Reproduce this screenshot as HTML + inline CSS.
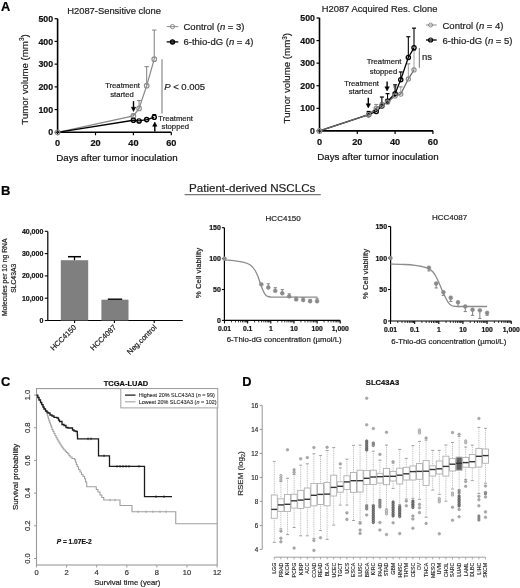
<!DOCTYPE html>
<html><head><meta charset="utf-8"><title>Figure</title>
<style>html,body{margin:0;padding:0;background:#fff;} svg{display:block;} text{font-family:"Liberation Sans",Arial,sans-serif;}</style>
</head><body>
<svg width="520" height="588" viewBox="0 0 520 588">
<rect width="520" height="588" fill="#fff"/>
<text x="1.00" y="11.10" font-size="12.8" text-anchor="start" font-weight="bold" fill="#000" stroke="#000" stroke-width="0.2">A</text>
<text x="1.00" y="194.60" font-size="13.0" text-anchor="start" font-weight="bold" fill="#000" stroke="#000" stroke-width="0.2">B</text>
<text x="0.90" y="386.40" font-size="12.8" text-anchor="start" font-weight="bold" fill="#000" stroke="#000" stroke-width="0.2">C</text>
<text x="242.20" y="386.40" font-size="12.8" text-anchor="start" font-weight="bold" fill="#000" stroke="#000" stroke-width="0.2">D</text>
<line x1="57.60" y1="18.70" x2="57.60" y2="132.30" stroke="#000" stroke-width="1.6"/>
<line x1="54.60" y1="132.30" x2="57.60" y2="132.30" stroke="#000" stroke-width="1.2"/>
<text x="53.10" y="135.40" font-size="8.8" text-anchor="end" font-weight="bold" fill="#111" stroke="#111" stroke-width="0.2">0</text>
<line x1="54.60" y1="109.58" x2="57.60" y2="109.58" stroke="#000" stroke-width="1.2"/>
<text x="53.10" y="112.68" font-size="8.8" text-anchor="end" font-weight="bold" fill="#111" stroke="#111" stroke-width="0.2">100</text>
<line x1="54.60" y1="86.86" x2="57.60" y2="86.86" stroke="#000" stroke-width="1.2"/>
<text x="53.10" y="89.96" font-size="8.8" text-anchor="end" font-weight="bold" fill="#111" stroke="#111" stroke-width="0.2">200</text>
<line x1="54.60" y1="64.14" x2="57.60" y2="64.14" stroke="#000" stroke-width="1.2"/>
<text x="53.10" y="67.24" font-size="8.8" text-anchor="end" font-weight="bold" fill="#111" stroke="#111" stroke-width="0.2">300</text>
<line x1="54.60" y1="41.42" x2="57.60" y2="41.42" stroke="#000" stroke-width="1.2"/>
<text x="53.10" y="44.52" font-size="8.8" text-anchor="end" font-weight="bold" fill="#111" stroke="#111" stroke-width="0.2">400</text>
<line x1="54.60" y1="18.70" x2="57.60" y2="18.70" stroke="#000" stroke-width="1.2"/>
<text x="53.10" y="21.80" font-size="8.8" text-anchor="end" font-weight="bold" fill="#111" stroke="#111" stroke-width="0.2">500</text>
<line x1="57.60" y1="132.30" x2="171.40" y2="132.30" stroke="#000" stroke-width="1.6"/>
<line x1="57.60" y1="132.30" x2="57.60" y2="135.30" stroke="#000" stroke-width="1.2"/>
<text x="57.60" y="146.10" font-size="9.2" text-anchor="middle" font-weight="bold" fill="#111" stroke="#111" stroke-width="0.2">0</text>
<line x1="95.50" y1="132.30" x2="95.50" y2="135.30" stroke="#000" stroke-width="1.2"/>
<text x="95.50" y="146.10" font-size="9.2" text-anchor="middle" font-weight="bold" fill="#111" stroke="#111" stroke-width="0.2">20</text>
<line x1="133.40" y1="132.30" x2="133.40" y2="135.30" stroke="#000" stroke-width="1.2"/>
<text x="133.40" y="146.10" font-size="9.2" text-anchor="middle" font-weight="bold" fill="#111" stroke="#111" stroke-width="0.2">40</text>
<line x1="171.30" y1="132.30" x2="171.30" y2="135.30" stroke="#000" stroke-width="1.2"/>
<text x="171.30" y="146.10" font-size="9.2" text-anchor="middle" font-weight="bold" fill="#111" stroke="#111" stroke-width="0.2">60</text>
<text x="67.20" y="13.60" font-size="9.4" text-anchor="start" fill="#222" stroke="#222" stroke-width="0.2">H2087-Sensitive clone</text>
<text x="27.90" y="79.50" font-size="9.7" text-anchor="middle" fill="#222" stroke="#222" stroke-width="0.2" transform="rotate(-90 27.90 79.50)">Tumor volume (mm<tspan font-size="6.3" dy="-3.5">3</tspan><tspan dy="3.5">)</tspan></text>
<text x="56.20" y="160.80" font-size="9.75" text-anchor="start" fill="#111" stroke="#111" stroke-width="0.2">Days after tumor inoculation</text>
<line x1="133.40" y1="115.94" x2="133.40" y2="114.12" stroke="#8a8a8a" stroke-width="1.1"/>
<line x1="131.20" y1="114.12" x2="135.60" y2="114.12" stroke="#8a8a8a" stroke-width="1.1"/>
<line x1="139.09" y1="108.44" x2="139.09" y2="100.49" stroke="#8a8a8a" stroke-width="1.1"/>
<line x1="136.89" y1="100.49" x2="141.28" y2="100.49" stroke="#8a8a8a" stroke-width="1.1"/>
<line x1="146.66" y1="85.72" x2="146.66" y2="66.64" stroke="#8a8a8a" stroke-width="1.1"/>
<line x1="144.47" y1="66.64" x2="148.86" y2="66.64" stroke="#8a8a8a" stroke-width="1.1"/>
<line x1="154.25" y1="59.14" x2="154.25" y2="30.06" stroke="#8a8a8a" stroke-width="1.1"/>
<line x1="152.05" y1="30.06" x2="156.44" y2="30.06" stroke="#8a8a8a" stroke-width="1.1"/>
<path d="M57.60,132.30 L133.40,115.94 L139.09,108.44 L146.66,85.72 L154.25,59.14" stroke="#8a8a8a" stroke-width="1.2" fill="none"/>
<path d="M57.60,132.30 L133.40,120.26 L139.09,120.94 L146.66,119.58 L154.25,117.30" stroke="#000" stroke-width="1.3" fill="none"/>
<circle cx="133.40" cy="115.94" r="2.3" stroke="#8a8a8a" stroke-width="1.1" fill="none"/>
<circle cx="139.09" cy="108.44" r="2.3" stroke="#8a8a8a" stroke-width="1.1" fill="none"/>
<circle cx="146.66" cy="85.72" r="2.3" stroke="#8a8a8a" stroke-width="1.1" fill="none"/>
<circle cx="154.25" cy="59.14" r="2.3" stroke="#8a8a8a" stroke-width="1.1" fill="none"/>
<circle cx="133.40" cy="120.26" r="2.1" stroke="#000" stroke-width="1.4" fill="none"/>
<circle cx="139.09" cy="120.94" r="2.1" stroke="#000" stroke-width="1.4" fill="none"/>
<circle cx="146.66" cy="119.58" r="2.1" stroke="#000" stroke-width="1.4" fill="none"/>
<circle cx="154.25" cy="117.30" r="2.1" stroke="#000" stroke-width="1.4" fill="none"/>
<line x1="152.25" y1="114.58" x2="156.25" y2="114.58" stroke="#000" stroke-width="1.2"/>
<line x1="154.25" y1="114.80" x2="154.25" y2="114.58" stroke="#000" stroke-width="1.2"/>
<circle cx="57.60" cy="132.30" r="2.3" stroke="#8a8a8a" stroke-width="1.1" fill="none"/>
<circle cx="172.50" cy="26.60" r="2.1" stroke="#8a8a8a" stroke-width="1.0" fill="none"/>
<line x1="166.70" y1="26.60" x2="178.30" y2="26.60" stroke="#8a8a8a" stroke-width="1.0"/>
<circle cx="172.50" cy="41.90" r="2.1" stroke="#000" stroke-width="1.3" fill="#888"/>
<line x1="166.70" y1="41.90" x2="178.30" y2="41.90" stroke="#000" stroke-width="1.3"/>
<text x="183.50" y="30.00" font-size="9.5" text-anchor="start" fill="#222" stroke="#222" stroke-width="0.2">Control (<tspan font-style="italic">n</tspan> = 3)</text>
<text x="183.50" y="44.80" font-size="9.5" text-anchor="start" fill="#222" stroke="#222" stroke-width="0.2">6-thio-dG (<tspan font-style="italic">n</tspan> = 4)</text>
<line x1="162.00" y1="59.20" x2="162.00" y2="113.60" stroke="#8a8a8a" stroke-width="1.2"/>
<text x="164.20" y="89.90" font-size="9.5" text-anchor="start" fill="#222" stroke="#222" stroke-width="0.2"><tspan font-style="italic">P</tspan> &lt; 0.005</text>
<text x="122.50" y="88.10" font-size="7.7" text-anchor="middle" fill="#222" stroke="#222" stroke-width="0.2">Treatment</text>
<text x="122.00" y="96.70" font-size="7.7" text-anchor="middle" fill="#222" stroke="#222" stroke-width="0.2">started</text>
<line x1="133.50" y1="101.20" x2="133.50" y2="108.00" stroke="#000" stroke-width="1.4"/>
<path d="M131.3,107.2 L133.5,111.5 L135.7,107.2 Z" stroke="#000" stroke-width="0.5" fill="#000"/>
<text x="175.60" y="121.20" font-size="7.7" text-anchor="middle" fill="#222" stroke="#222" stroke-width="0.2">Treatment</text>
<text x="175.30" y="129.20" font-size="7.7" text-anchor="middle" fill="#222" stroke="#222" stroke-width="0.2">stopped</text>
<line x1="154.80" y1="131.50" x2="154.80" y2="125.50" stroke="#000" stroke-width="1.4"/>
<path d="M152.6,126.3 L154.8,122 L157,126.3 Z" stroke="#000" stroke-width="0.5" fill="#000"/>
<line x1="319.50" y1="17.80" x2="319.50" y2="130.90" stroke="#000" stroke-width="1.6"/>
<line x1="316.50" y1="130.90" x2="319.50" y2="130.90" stroke="#000" stroke-width="1.2"/>
<text x="315.00" y="134.00" font-size="8.8" text-anchor="end" font-weight="bold" fill="#111" stroke="#111" stroke-width="0.2">0</text>
<line x1="316.50" y1="108.32" x2="319.50" y2="108.32" stroke="#000" stroke-width="1.2"/>
<text x="315.00" y="111.42" font-size="8.8" text-anchor="end" font-weight="bold" fill="#111" stroke="#111" stroke-width="0.2">100</text>
<line x1="316.50" y1="85.74" x2="319.50" y2="85.74" stroke="#000" stroke-width="1.2"/>
<text x="315.00" y="88.84" font-size="8.8" text-anchor="end" font-weight="bold" fill="#111" stroke="#111" stroke-width="0.2">200</text>
<line x1="316.50" y1="63.16" x2="319.50" y2="63.16" stroke="#000" stroke-width="1.2"/>
<text x="315.00" y="66.26" font-size="8.8" text-anchor="end" font-weight="bold" fill="#111" stroke="#111" stroke-width="0.2">300</text>
<line x1="316.50" y1="40.58" x2="319.50" y2="40.58" stroke="#000" stroke-width="1.2"/>
<text x="315.00" y="43.68" font-size="8.8" text-anchor="end" font-weight="bold" fill="#111" stroke="#111" stroke-width="0.2">400</text>
<line x1="316.50" y1="18.00" x2="319.50" y2="18.00" stroke="#000" stroke-width="1.2"/>
<text x="315.00" y="21.10" font-size="8.8" text-anchor="end" font-weight="bold" fill="#111" stroke="#111" stroke-width="0.2">500</text>
<line x1="319.50" y1="130.90" x2="433.20" y2="130.90" stroke="#000" stroke-width="1.6"/>
<line x1="319.50" y1="130.90" x2="319.50" y2="133.90" stroke="#000" stroke-width="1.2"/>
<text x="319.50" y="144.70" font-size="9.2" text-anchor="middle" font-weight="bold" fill="#111" stroke="#111" stroke-width="0.2">0</text>
<line x1="357.30" y1="130.90" x2="357.30" y2="133.90" stroke="#000" stroke-width="1.2"/>
<text x="357.30" y="144.70" font-size="9.2" text-anchor="middle" font-weight="bold" fill="#111" stroke="#111" stroke-width="0.2">20</text>
<line x1="395.10" y1="130.90" x2="395.10" y2="133.90" stroke="#000" stroke-width="1.2"/>
<text x="395.10" y="144.70" font-size="9.2" text-anchor="middle" font-weight="bold" fill="#111" stroke="#111" stroke-width="0.2">40</text>
<line x1="432.90" y1="130.90" x2="432.90" y2="133.90" stroke="#000" stroke-width="1.2"/>
<text x="432.90" y="144.70" font-size="9.2" text-anchor="middle" font-weight="bold" fill="#111" stroke="#111" stroke-width="0.2">60</text>
<text x="321.70" y="12.10" font-size="9.4" text-anchor="start" fill="#222" stroke="#222" stroke-width="0.2">H2087 Acquired Res. Clone</text>
<text x="290.40" y="78.20" font-size="9.7" text-anchor="middle" fill="#222" stroke="#222" stroke-width="0.2" transform="rotate(-90 290.40 78.20)">Tumor volume (mm<tspan font-size="6.3" dy="-3.5">3</tspan><tspan dy="3.5">)</tspan></text>
<text x="317.20" y="160.30" font-size="9.75" text-anchor="start" fill="#111" stroke="#111" stroke-width="0.2">Days after tumor inoculation</text>
<line x1="368.64" y1="114.64" x2="368.64" y2="112.84" stroke="#a0a0a0" stroke-width="1.0"/>
<line x1="366.64" y1="112.84" x2="370.64" y2="112.84" stroke="#8a8a8a" stroke-width="1.1"/>
<line x1="376.20" y1="108.09" x2="376.20" y2="104.48" stroke="#a0a0a0" stroke-width="1.0"/>
<line x1="374.20" y1="104.48" x2="378.20" y2="104.48" stroke="#8a8a8a" stroke-width="1.1"/>
<line x1="381.87" y1="105.16" x2="381.87" y2="102.68" stroke="#a0a0a0" stroke-width="1.0"/>
<line x1="379.87" y1="102.68" x2="383.87" y2="102.68" stroke="#8a8a8a" stroke-width="1.1"/>
<line x1="387.54" y1="102.22" x2="387.54" y2="99.29" stroke="#a0a0a0" stroke-width="1.0"/>
<line x1="385.54" y1="99.29" x2="389.54" y2="99.29" stroke="#8a8a8a" stroke-width="1.1"/>
<line x1="395.10" y1="95.90" x2="395.10" y2="86.87" stroke="#a0a0a0" stroke-width="1.0"/>
<line x1="393.10" y1="86.87" x2="397.10" y2="86.87" stroke="#8a8a8a" stroke-width="1.1"/>
<line x1="400.77" y1="94.09" x2="400.77" y2="86.87" stroke="#a0a0a0" stroke-width="1.0"/>
<line x1="398.77" y1="86.87" x2="402.77" y2="86.87" stroke="#8a8a8a" stroke-width="1.1"/>
<line x1="408.33" y1="78.97" x2="408.33" y2="63.84" stroke="#a0a0a0" stroke-width="1.0"/>
<line x1="406.33" y1="63.84" x2="410.33" y2="63.84" stroke="#8a8a8a" stroke-width="1.1"/>
<line x1="414.00" y1="69.93" x2="414.00" y2="50.52" stroke="#a0a0a0" stroke-width="1.0"/>
<line x1="412.00" y1="50.52" x2="416.00" y2="50.52" stroke="#8a8a8a" stroke-width="1.1"/>
<line x1="368.64" y1="114.64" x2="368.64" y2="111.48" stroke="#000" stroke-width="1.1"/>
<line x1="366.64" y1="111.48" x2="370.64" y2="111.48" stroke="#000" stroke-width="1.2"/>
<line x1="376.20" y1="111.48" x2="376.20" y2="109.45" stroke="#000" stroke-width="1.1"/>
<line x1="374.20" y1="109.45" x2="378.20" y2="109.45" stroke="#000" stroke-width="1.2"/>
<line x1="381.87" y1="106.06" x2="381.87" y2="97.03" stroke="#000" stroke-width="1.1"/>
<line x1="379.87" y1="97.03" x2="383.87" y2="97.03" stroke="#000" stroke-width="1.2"/>
<line x1="387.54" y1="101.32" x2="387.54" y2="93.64" stroke="#000" stroke-width="1.1"/>
<line x1="385.54" y1="93.64" x2="389.54" y2="93.64" stroke="#000" stroke-width="1.2"/>
<line x1="395.10" y1="93.64" x2="395.10" y2="84.84" stroke="#000" stroke-width="1.1"/>
<line x1="393.10" y1="84.84" x2="397.10" y2="84.84" stroke="#000" stroke-width="1.2"/>
<line x1="400.77" y1="79.64" x2="400.77" y2="71.97" stroke="#000" stroke-width="1.1"/>
<line x1="398.77" y1="71.97" x2="402.77" y2="71.97" stroke="#000" stroke-width="1.2"/>
<line x1="408.33" y1="57.52" x2="408.33" y2="36.74" stroke="#000" stroke-width="1.1"/>
<line x1="406.33" y1="36.74" x2="410.33" y2="36.74" stroke="#000" stroke-width="1.2"/>
<line x1="414.00" y1="47.81" x2="414.00" y2="28.16" stroke="#000" stroke-width="1.1"/>
<line x1="412.00" y1="28.16" x2="416.00" y2="28.16" stroke="#000" stroke-width="1.2"/>
<path d="M319.50,130.90 L368.64,114.64 L376.20,111.48 L381.87,106.06 L387.54,101.32 L395.10,93.64 L400.77,79.64 L408.33,57.52 L414.00,47.81" stroke="#000" stroke-width="1.3" fill="none"/>
<path d="M319.50,130.90 L368.64,114.64 L376.20,108.09 L381.87,105.16 L387.54,102.22 L395.10,95.90 L400.77,94.09 L408.33,78.97 L414.00,69.93" stroke="#666" stroke-width="1.2" fill="none"/>
<circle cx="368.64" cy="114.64" r="2.1" stroke="#000" stroke-width="1.3" fill="none"/>
<circle cx="376.20" cy="111.48" r="2.1" stroke="#000" stroke-width="1.3" fill="none"/>
<circle cx="381.87" cy="106.06" r="2.1" stroke="#000" stroke-width="1.3" fill="none"/>
<circle cx="387.54" cy="101.32" r="2.1" stroke="#000" stroke-width="1.3" fill="none"/>
<circle cx="395.10" cy="93.64" r="2.1" stroke="#000" stroke-width="1.3" fill="none"/>
<circle cx="400.77" cy="79.64" r="2.1" stroke="#000" stroke-width="1.3" fill="none"/>
<circle cx="408.33" cy="57.52" r="2.1" stroke="#000" stroke-width="1.3" fill="none"/>
<circle cx="414.00" cy="47.81" r="2.1" stroke="#000" stroke-width="1.3" fill="none"/>
<circle cx="368.64" cy="114.64" r="2.1" stroke="#8a8a8a" stroke-width="1.1" fill="none"/>
<circle cx="376.20" cy="108.09" r="2.1" stroke="#8a8a8a" stroke-width="1.1" fill="none"/>
<circle cx="381.87" cy="105.16" r="2.1" stroke="#8a8a8a" stroke-width="1.1" fill="none"/>
<circle cx="387.54" cy="102.22" r="2.1" stroke="#8a8a8a" stroke-width="1.1" fill="none"/>
<circle cx="395.10" cy="95.90" r="2.1" stroke="#8a8a8a" stroke-width="1.1" fill="none"/>
<circle cx="400.77" cy="94.09" r="2.1" stroke="#8a8a8a" stroke-width="1.1" fill="none"/>
<circle cx="408.33" cy="78.97" r="2.1" stroke="#8a8a8a" stroke-width="1.1" fill="none"/>
<circle cx="414.00" cy="69.93" r="2.1" stroke="#8a8a8a" stroke-width="1.1" fill="none"/>
<circle cx="319.50" cy="130.90" r="2.3" stroke="#8a8a8a" stroke-width="1.1" fill="none"/>
<circle cx="430.60" cy="25.00" r="2.0" stroke="#8a8a8a" stroke-width="1.0" fill="none"/>
<line x1="426.00" y1="25.00" x2="436.70" y2="25.00" stroke="#8a8a8a" stroke-width="1.0"/>
<circle cx="430.60" cy="40.00" r="2.0" stroke="#000" stroke-width="1.2" fill="none"/>
<line x1="426.00" y1="40.00" x2="436.70" y2="40.00" stroke="#000" stroke-width="1.3"/>
<text x="442.50" y="28.80" font-size="9.5" text-anchor="start" fill="#222" stroke="#222" stroke-width="0.2">Control (<tspan font-style="italic">n</tspan> = 4)</text>
<text x="442.50" y="43.60" font-size="9.5" text-anchor="start" fill="#222" stroke="#222" stroke-width="0.2">6-thio-dG (<tspan font-style="italic">n</tspan> = 5)</text>
<line x1="419.40" y1="48.00" x2="419.40" y2="67.70" stroke="#8a8a8a" stroke-width="1.2"/>
<text x="422.00" y="59.80" font-size="9.5" text-anchor="start" fill="#222" stroke="#222" stroke-width="0.2">ns</text>
<text x="361.50" y="85.60" font-size="7.7" text-anchor="middle" fill="#222" stroke="#222" stroke-width="0.2">Treatment</text>
<text x="360.50" y="93.60" font-size="7.7" text-anchor="middle" fill="#222" stroke="#222" stroke-width="0.2">started</text>
<line x1="368.30" y1="97.70" x2="368.30" y2="104.50" stroke="#000" stroke-width="1.4"/>
<path d="M366.1,103.8 L368.3,108 L370.5,103.8 Z" stroke="#000" stroke-width="0.5" fill="#000"/>
<text x="384.00" y="64.00" font-size="7.7" text-anchor="middle" fill="#222" stroke="#222" stroke-width="0.2">Treatment</text>
<text x="383.50" y="73.50" font-size="7.7" text-anchor="middle" fill="#222" stroke="#222" stroke-width="0.2">stopped</text>
<line x1="387.10" y1="81.50" x2="387.10" y2="87.50" stroke="#000" stroke-width="1.4"/>
<path d="M384.9,86.8 L387.1,91 L389.3,86.8 Z" stroke="#000" stroke-width="0.5" fill="#000"/>
<text x="189.00" y="192.20" font-size="11.6" text-anchor="start" fill="#222" stroke="#222" stroke-width="0.2">Patient-derived NSCLCs</text>
<line x1="184.60" y1="194.60" x2="320.80" y2="194.60" stroke="#777" stroke-width="1.2"/>
<line x1="47.80" y1="231.50" x2="47.80" y2="320.50" stroke="#000" stroke-width="1.2"/>
<line x1="44.80" y1="320.50" x2="47.80" y2="320.50" stroke="#000" stroke-width="1.1"/>
<text x="43.30" y="323.00" font-size="7.0" text-anchor="end" font-weight="bold" fill="#111" stroke="#111" stroke-width="0.2">0</text>
<line x1="44.80" y1="298.20" x2="47.80" y2="298.20" stroke="#000" stroke-width="1.1"/>
<text x="43.30" y="300.70" font-size="7.0" text-anchor="end" font-weight="bold" fill="#111" stroke="#111" stroke-width="0.2">10,000</text>
<line x1="44.80" y1="275.90" x2="47.80" y2="275.90" stroke="#000" stroke-width="1.1"/>
<text x="43.30" y="278.40" font-size="7.0" text-anchor="end" font-weight="bold" fill="#111" stroke="#111" stroke-width="0.2">20,000</text>
<line x1="44.80" y1="253.60" x2="47.80" y2="253.60" stroke="#000" stroke-width="1.1"/>
<text x="43.30" y="256.10" font-size="7.0" text-anchor="end" font-weight="bold" fill="#111" stroke="#111" stroke-width="0.2">30,000</text>
<line x1="44.80" y1="231.30" x2="47.80" y2="231.30" stroke="#000" stroke-width="1.1"/>
<text x="43.30" y="233.80" font-size="7.0" text-anchor="end" font-weight="bold" fill="#111" stroke="#111" stroke-width="0.2">40,000</text>
<line x1="47.80" y1="320.50" x2="182.80" y2="320.50" stroke="#000" stroke-width="1.2"/>
<rect x="60.8" y="260.2" width="27.4" height="60.30" fill="#7f7f7f"/>
<rect x="101.4" y="299.7" width="27.1" height="20.80" fill="#7f7f7f"/>
<line x1="74.50" y1="260.20" x2="74.50" y2="256.70" stroke="#000" stroke-width="1.3"/>
<line x1="68.00" y1="256.70" x2="81.00" y2="256.70" stroke="#000" stroke-width="1.5"/>
<line x1="107.80" y1="299.20" x2="122.20" y2="299.20" stroke="#000" stroke-width="1.4"/>
<line x1="74.60" y1="320.50" x2="74.60" y2="323.00" stroke="#000" stroke-width="1.1"/>
<line x1="114.40" y1="320.50" x2="114.40" y2="323.00" stroke="#000" stroke-width="1.1"/>
<line x1="154.20" y1="320.50" x2="154.20" y2="323.00" stroke="#000" stroke-width="1.1"/>
<text x="76.80" y="327.80" font-size="7.5" text-anchor="end" fill="#222" stroke="#222" stroke-width="0.2" transform="rotate(-45 76.80 327.80)">HCC4150</text>
<text x="116.60" y="327.80" font-size="7.5" text-anchor="end" fill="#222" stroke="#222" stroke-width="0.2" transform="rotate(-45 116.60 327.80)">HCC4087</text>
<text x="157.20" y="327.80" font-size="7.5" text-anchor="end" fill="#222" stroke="#222" stroke-width="0.2" transform="rotate(-45 157.20 327.80)">Neg.control</text>
<text x="6.90" y="277.20" font-size="6.8" text-anchor="middle" fill="#222" stroke="#222" stroke-width="0.2" transform="rotate(-90 6.90 277.20)">Molecules per 10 ng RNA</text>
<text x="16.20" y="278.30" font-size="6.8" text-anchor="middle" fill="#222" stroke="#222" stroke-width="0.2" transform="rotate(-90 16.20 278.30)">SLC43A3</text>
<line x1="224.40" y1="227.70" x2="224.40" y2="320.40" stroke="#000" stroke-width="1.2"/>
<line x1="221.90" y1="320.40" x2="224.40" y2="320.40" stroke="#000" stroke-width="1.1"/>
<text x="220.90" y="322.90" font-size="7.0" text-anchor="end" font-weight="bold" fill="#111" stroke="#111" stroke-width="0.2">0</text>
<line x1="221.90" y1="289.50" x2="224.40" y2="289.50" stroke="#000" stroke-width="1.1"/>
<text x="220.90" y="292.00" font-size="7.0" text-anchor="end" font-weight="bold" fill="#111" stroke="#111" stroke-width="0.2">50</text>
<line x1="221.90" y1="258.60" x2="224.40" y2="258.60" stroke="#000" stroke-width="1.1"/>
<text x="220.90" y="261.10" font-size="7.0" text-anchor="end" font-weight="bold" fill="#111" stroke="#111" stroke-width="0.2">100</text>
<line x1="221.90" y1="227.70" x2="224.40" y2="227.70" stroke="#000" stroke-width="1.1"/>
<text x="220.90" y="230.20" font-size="7.0" text-anchor="end" font-weight="bold" fill="#111" stroke="#111" stroke-width="0.2">150</text>
<line x1="224.40" y1="320.40" x2="340.25" y2="320.40" stroke="#000" stroke-width="1.2"/>
<line x1="224.50" y1="320.40" x2="224.50" y2="323.40" stroke="#000" stroke-width="1.1"/>
<line x1="231.47" y1="320.40" x2="231.47" y2="322.40" stroke="#000" stroke-width="0.8"/>
<line x1="235.55" y1="320.40" x2="235.55" y2="322.40" stroke="#000" stroke-width="0.8"/>
<line x1="238.44" y1="320.40" x2="238.44" y2="322.40" stroke="#000" stroke-width="0.8"/>
<line x1="240.68" y1="320.40" x2="240.68" y2="322.40" stroke="#000" stroke-width="0.8"/>
<line x1="242.51" y1="320.40" x2="242.51" y2="322.40" stroke="#000" stroke-width="0.8"/>
<line x1="244.06" y1="320.40" x2="244.06" y2="322.40" stroke="#000" stroke-width="0.8"/>
<line x1="245.41" y1="320.40" x2="245.41" y2="322.40" stroke="#000" stroke-width="0.8"/>
<line x1="246.59" y1="320.40" x2="246.59" y2="322.40" stroke="#000" stroke-width="0.8"/>
<text x="224.50" y="331.00" font-size="6.8" text-anchor="middle" font-weight="bold" fill="#111" stroke="#111" stroke-width="0.2">0.01</text>
<line x1="247.65" y1="320.40" x2="247.65" y2="323.40" stroke="#000" stroke-width="1.1"/>
<line x1="254.62" y1="320.40" x2="254.62" y2="322.40" stroke="#000" stroke-width="0.8"/>
<line x1="258.70" y1="320.40" x2="258.70" y2="322.40" stroke="#000" stroke-width="0.8"/>
<line x1="261.59" y1="320.40" x2="261.59" y2="322.40" stroke="#000" stroke-width="0.8"/>
<line x1="263.83" y1="320.40" x2="263.83" y2="322.40" stroke="#000" stroke-width="0.8"/>
<line x1="265.66" y1="320.40" x2="265.66" y2="322.40" stroke="#000" stroke-width="0.8"/>
<line x1="267.21" y1="320.40" x2="267.21" y2="322.40" stroke="#000" stroke-width="0.8"/>
<line x1="268.56" y1="320.40" x2="268.56" y2="322.40" stroke="#000" stroke-width="0.8"/>
<line x1="269.74" y1="320.40" x2="269.74" y2="322.40" stroke="#000" stroke-width="0.8"/>
<text x="247.65" y="331.00" font-size="6.8" text-anchor="middle" font-weight="bold" fill="#111" stroke="#111" stroke-width="0.2">0.1</text>
<line x1="270.80" y1="320.40" x2="270.80" y2="323.40" stroke="#000" stroke-width="1.1"/>
<line x1="277.77" y1="320.40" x2="277.77" y2="322.40" stroke="#000" stroke-width="0.8"/>
<line x1="281.85" y1="320.40" x2="281.85" y2="322.40" stroke="#000" stroke-width="0.8"/>
<line x1="284.74" y1="320.40" x2="284.74" y2="322.40" stroke="#000" stroke-width="0.8"/>
<line x1="286.98" y1="320.40" x2="286.98" y2="322.40" stroke="#000" stroke-width="0.8"/>
<line x1="288.81" y1="320.40" x2="288.81" y2="322.40" stroke="#000" stroke-width="0.8"/>
<line x1="290.36" y1="320.40" x2="290.36" y2="322.40" stroke="#000" stroke-width="0.8"/>
<line x1="291.71" y1="320.40" x2="291.71" y2="322.40" stroke="#000" stroke-width="0.8"/>
<line x1="292.89" y1="320.40" x2="292.89" y2="322.40" stroke="#000" stroke-width="0.8"/>
<text x="270.80" y="331.00" font-size="6.8" text-anchor="middle" font-weight="bold" fill="#111" stroke="#111" stroke-width="0.2">1</text>
<line x1="293.95" y1="320.40" x2="293.95" y2="323.40" stroke="#000" stroke-width="1.1"/>
<line x1="300.92" y1="320.40" x2="300.92" y2="322.40" stroke="#000" stroke-width="0.8"/>
<line x1="305.00" y1="320.40" x2="305.00" y2="322.40" stroke="#000" stroke-width="0.8"/>
<line x1="307.89" y1="320.40" x2="307.89" y2="322.40" stroke="#000" stroke-width="0.8"/>
<line x1="310.13" y1="320.40" x2="310.13" y2="322.40" stroke="#000" stroke-width="0.8"/>
<line x1="311.96" y1="320.40" x2="311.96" y2="322.40" stroke="#000" stroke-width="0.8"/>
<line x1="313.51" y1="320.40" x2="313.51" y2="322.40" stroke="#000" stroke-width="0.8"/>
<line x1="314.86" y1="320.40" x2="314.86" y2="322.40" stroke="#000" stroke-width="0.8"/>
<line x1="316.04" y1="320.40" x2="316.04" y2="322.40" stroke="#000" stroke-width="0.8"/>
<text x="293.95" y="331.00" font-size="6.8" text-anchor="middle" font-weight="bold" fill="#111" stroke="#111" stroke-width="0.2">10</text>
<line x1="317.10" y1="320.40" x2="317.10" y2="323.40" stroke="#000" stroke-width="1.1"/>
<line x1="324.07" y1="320.40" x2="324.07" y2="322.40" stroke="#000" stroke-width="0.8"/>
<line x1="328.15" y1="320.40" x2="328.15" y2="322.40" stroke="#000" stroke-width="0.8"/>
<line x1="331.04" y1="320.40" x2="331.04" y2="322.40" stroke="#000" stroke-width="0.8"/>
<line x1="333.28" y1="320.40" x2="333.28" y2="322.40" stroke="#000" stroke-width="0.8"/>
<line x1="335.11" y1="320.40" x2="335.11" y2="322.40" stroke="#000" stroke-width="0.8"/>
<line x1="336.66" y1="320.40" x2="336.66" y2="322.40" stroke="#000" stroke-width="0.8"/>
<line x1="338.01" y1="320.40" x2="338.01" y2="322.40" stroke="#000" stroke-width="0.8"/>
<line x1="339.19" y1="320.40" x2="339.19" y2="322.40" stroke="#000" stroke-width="0.8"/>
<text x="317.10" y="331.00" font-size="6.8" text-anchor="middle" font-weight="bold" fill="#111" stroke="#111" stroke-width="0.2">100</text>
<line x1="340.25" y1="320.40" x2="340.25" y2="323.40" stroke="#000" stroke-width="1.1"/>
<text x="340.25" y="331.00" font-size="6.8" text-anchor="middle" font-weight="bold" fill="#111" stroke="#111" stroke-width="0.2">1,000</text>
<text x="265.60" y="220.80" font-size="8.0" text-anchor="start" fill="#222" stroke="#222" stroke-width="0.2">HCC4150</text>
<text x="200.80" y="273.00" font-size="7.8" text-anchor="middle" fill="#222" stroke="#222" stroke-width="0.2" transform="rotate(-90 200.80 273.00)">% Cell viability</text>
<text x="226.70" y="342.20" font-size="7.8" text-anchor="start" fill="#222" stroke="#222" stroke-width="0.2">6-Thio-dG concentration (µmol/L)</text>
<path d="M224.50,260.10 C226.25,260.22 231.75,260.43 235.00,260.80 C238.25,261.17 241.50,261.63 244.00,262.30 C246.50,262.97 248.25,263.60 250.00,264.80 C251.75,266.00 253.20,267.63 254.50,269.50 C255.80,271.37 256.82,273.65 257.80,276.00 C258.78,278.35 259.57,281.27 260.40,283.60 C261.23,285.93 262.02,288.20 262.80,290.00 C263.58,291.80 264.32,293.35 265.10,294.40 C265.88,295.45 266.60,295.87 267.50,296.30 C268.40,296.73 268.42,296.85 270.50,297.00 C272.58,297.15 272.13,297.17 280.00,297.20 C287.87,297.23 311.42,297.20 317.70,297.20" stroke="#8c8c8c" stroke-width="1.3" fill="none"/>
<circle cx="224.50" cy="258.60" r="1.9" stroke="#8a8a8a" stroke-width="0.6" fill="#8a8a8a"/>
<circle cx="261.33" cy="284.31" r="1.9" stroke="#8a8a8a" stroke-width="0.6" fill="#8a8a8a"/>
<line x1="268.30" y1="287.52" x2="268.30" y2="283.81" stroke="#8a8a8a" stroke-width="1.1"/>
<line x1="266.70" y1="283.81" x2="269.90" y2="283.81" stroke="#8a8a8a" stroke-width="1.1"/>
<circle cx="268.30" cy="287.52" r="1.9" stroke="#8a8a8a" stroke-width="0.6" fill="#8a8a8a"/>
<line x1="275.27" y1="290.80" x2="275.27" y2="287.71" stroke="#8a8a8a" stroke-width="1.1"/>
<line x1="273.67" y1="287.71" x2="276.87" y2="287.71" stroke="#8a8a8a" stroke-width="1.1"/>
<circle cx="275.27" cy="290.80" r="1.9" stroke="#8a8a8a" stroke-width="0.6" fill="#8a8a8a"/>
<line x1="282.26" y1="293.27" x2="282.26" y2="289.56" stroke="#8a8a8a" stroke-width="1.1"/>
<line x1="280.66" y1="289.56" x2="283.86" y2="289.56" stroke="#8a8a8a" stroke-width="1.1"/>
<circle cx="282.26" cy="293.27" r="1.9" stroke="#8a8a8a" stroke-width="0.6" fill="#8a8a8a"/>
<line x1="289.22" y1="296.30" x2="289.22" y2="293.83" stroke="#8a8a8a" stroke-width="1.1"/>
<line x1="287.62" y1="293.83" x2="290.82" y2="293.83" stroke="#8a8a8a" stroke-width="1.1"/>
<circle cx="289.22" cy="296.30" r="1.9" stroke="#8a8a8a" stroke-width="0.6" fill="#8a8a8a"/>
<line x1="296.19" y1="299.39" x2="296.19" y2="297.22" stroke="#8a8a8a" stroke-width="1.1"/>
<line x1="294.59" y1="297.22" x2="297.79" y2="297.22" stroke="#8a8a8a" stroke-width="1.1"/>
<circle cx="296.19" cy="299.39" r="1.9" stroke="#8a8a8a" stroke-width="0.6" fill="#8a8a8a"/>
<line x1="303.16" y1="300.01" x2="303.16" y2="297.53" stroke="#8a8a8a" stroke-width="1.1"/>
<line x1="301.56" y1="297.53" x2="304.76" y2="297.53" stroke="#8a8a8a" stroke-width="1.1"/>
<circle cx="303.16" cy="300.01" r="1.9" stroke="#8a8a8a" stroke-width="0.6" fill="#8a8a8a"/>
<line x1="310.13" y1="301.24" x2="310.13" y2="299.39" stroke="#8a8a8a" stroke-width="1.1"/>
<line x1="308.53" y1="299.39" x2="311.73" y2="299.39" stroke="#8a8a8a" stroke-width="1.1"/>
<circle cx="310.13" cy="301.24" r="1.9" stroke="#8a8a8a" stroke-width="0.6" fill="#8a8a8a"/>
<line x1="317.10" y1="301.24" x2="317.10" y2="298.77" stroke="#8a8a8a" stroke-width="1.1"/>
<line x1="315.50" y1="298.77" x2="318.70" y2="298.77" stroke="#8a8a8a" stroke-width="1.1"/>
<circle cx="317.10" cy="301.24" r="1.9" stroke="#8a8a8a" stroke-width="0.6" fill="#8a8a8a"/>
<line x1="390.60" y1="226.50" x2="390.60" y2="321.00" stroke="#000" stroke-width="1.2"/>
<line x1="388.10" y1="321.00" x2="390.60" y2="321.00" stroke="#000" stroke-width="1.1"/>
<text x="387.10" y="323.50" font-size="7.0" text-anchor="end" font-weight="bold" fill="#111" stroke="#111" stroke-width="0.2">0</text>
<line x1="388.10" y1="289.50" x2="390.60" y2="289.50" stroke="#000" stroke-width="1.1"/>
<text x="387.10" y="292.00" font-size="7.0" text-anchor="end" font-weight="bold" fill="#111" stroke="#111" stroke-width="0.2">50</text>
<line x1="388.10" y1="258.00" x2="390.60" y2="258.00" stroke="#000" stroke-width="1.1"/>
<text x="387.10" y="260.50" font-size="7.0" text-anchor="end" font-weight="bold" fill="#111" stroke="#111" stroke-width="0.2">100</text>
<line x1="388.10" y1="226.50" x2="390.60" y2="226.50" stroke="#000" stroke-width="1.1"/>
<text x="387.10" y="229.00" font-size="7.0" text-anchor="end" font-weight="bold" fill="#111" stroke="#111" stroke-width="0.2">150</text>
<line x1="390.60" y1="321.00" x2="511.25" y2="321.00" stroke="#000" stroke-width="1.2"/>
<line x1="390.50" y1="321.00" x2="390.50" y2="324.00" stroke="#000" stroke-width="1.1"/>
<line x1="397.77" y1="321.00" x2="397.77" y2="323.00" stroke="#000" stroke-width="0.8"/>
<line x1="402.02" y1="321.00" x2="402.02" y2="323.00" stroke="#000" stroke-width="0.8"/>
<line x1="405.04" y1="321.00" x2="405.04" y2="323.00" stroke="#000" stroke-width="0.8"/>
<line x1="407.38" y1="321.00" x2="407.38" y2="323.00" stroke="#000" stroke-width="0.8"/>
<line x1="409.29" y1="321.00" x2="409.29" y2="323.00" stroke="#000" stroke-width="0.8"/>
<line x1="410.91" y1="321.00" x2="410.91" y2="323.00" stroke="#000" stroke-width="0.8"/>
<line x1="412.31" y1="321.00" x2="412.31" y2="323.00" stroke="#000" stroke-width="0.8"/>
<line x1="413.54" y1="321.00" x2="413.54" y2="323.00" stroke="#000" stroke-width="0.8"/>
<text x="390.50" y="331.60" font-size="6.8" text-anchor="middle" font-weight="bold" fill="#111" stroke="#111" stroke-width="0.2">0.01</text>
<line x1="414.65" y1="321.00" x2="414.65" y2="324.00" stroke="#000" stroke-width="1.1"/>
<line x1="421.92" y1="321.00" x2="421.92" y2="323.00" stroke="#000" stroke-width="0.8"/>
<line x1="426.17" y1="321.00" x2="426.17" y2="323.00" stroke="#000" stroke-width="0.8"/>
<line x1="429.19" y1="321.00" x2="429.19" y2="323.00" stroke="#000" stroke-width="0.8"/>
<line x1="431.53" y1="321.00" x2="431.53" y2="323.00" stroke="#000" stroke-width="0.8"/>
<line x1="433.44" y1="321.00" x2="433.44" y2="323.00" stroke="#000" stroke-width="0.8"/>
<line x1="435.06" y1="321.00" x2="435.06" y2="323.00" stroke="#000" stroke-width="0.8"/>
<line x1="436.46" y1="321.00" x2="436.46" y2="323.00" stroke="#000" stroke-width="0.8"/>
<line x1="437.69" y1="321.00" x2="437.69" y2="323.00" stroke="#000" stroke-width="0.8"/>
<text x="414.65" y="331.60" font-size="6.8" text-anchor="middle" font-weight="bold" fill="#111" stroke="#111" stroke-width="0.2">0.1</text>
<line x1="438.80" y1="321.00" x2="438.80" y2="324.00" stroke="#000" stroke-width="1.1"/>
<line x1="446.07" y1="321.00" x2="446.07" y2="323.00" stroke="#000" stroke-width="0.8"/>
<line x1="450.32" y1="321.00" x2="450.32" y2="323.00" stroke="#000" stroke-width="0.8"/>
<line x1="453.34" y1="321.00" x2="453.34" y2="323.00" stroke="#000" stroke-width="0.8"/>
<line x1="455.68" y1="321.00" x2="455.68" y2="323.00" stroke="#000" stroke-width="0.8"/>
<line x1="457.59" y1="321.00" x2="457.59" y2="323.00" stroke="#000" stroke-width="0.8"/>
<line x1="459.21" y1="321.00" x2="459.21" y2="323.00" stroke="#000" stroke-width="0.8"/>
<line x1="460.61" y1="321.00" x2="460.61" y2="323.00" stroke="#000" stroke-width="0.8"/>
<line x1="461.84" y1="321.00" x2="461.84" y2="323.00" stroke="#000" stroke-width="0.8"/>
<text x="438.80" y="331.60" font-size="6.8" text-anchor="middle" font-weight="bold" fill="#111" stroke="#111" stroke-width="0.2">1</text>
<line x1="462.95" y1="321.00" x2="462.95" y2="324.00" stroke="#000" stroke-width="1.1"/>
<line x1="470.22" y1="321.00" x2="470.22" y2="323.00" stroke="#000" stroke-width="0.8"/>
<line x1="474.47" y1="321.00" x2="474.47" y2="323.00" stroke="#000" stroke-width="0.8"/>
<line x1="477.49" y1="321.00" x2="477.49" y2="323.00" stroke="#000" stroke-width="0.8"/>
<line x1="479.83" y1="321.00" x2="479.83" y2="323.00" stroke="#000" stroke-width="0.8"/>
<line x1="481.74" y1="321.00" x2="481.74" y2="323.00" stroke="#000" stroke-width="0.8"/>
<line x1="483.36" y1="321.00" x2="483.36" y2="323.00" stroke="#000" stroke-width="0.8"/>
<line x1="484.76" y1="321.00" x2="484.76" y2="323.00" stroke="#000" stroke-width="0.8"/>
<line x1="485.99" y1="321.00" x2="485.99" y2="323.00" stroke="#000" stroke-width="0.8"/>
<text x="462.95" y="331.60" font-size="6.8" text-anchor="middle" font-weight="bold" fill="#111" stroke="#111" stroke-width="0.2">10</text>
<line x1="487.10" y1="321.00" x2="487.10" y2="324.00" stroke="#000" stroke-width="1.1"/>
<line x1="494.37" y1="321.00" x2="494.37" y2="323.00" stroke="#000" stroke-width="0.8"/>
<line x1="498.62" y1="321.00" x2="498.62" y2="323.00" stroke="#000" stroke-width="0.8"/>
<line x1="501.64" y1="321.00" x2="501.64" y2="323.00" stroke="#000" stroke-width="0.8"/>
<line x1="503.98" y1="321.00" x2="503.98" y2="323.00" stroke="#000" stroke-width="0.8"/>
<line x1="505.89" y1="321.00" x2="505.89" y2="323.00" stroke="#000" stroke-width="0.8"/>
<line x1="507.51" y1="321.00" x2="507.51" y2="323.00" stroke="#000" stroke-width="0.8"/>
<line x1="508.91" y1="321.00" x2="508.91" y2="323.00" stroke="#000" stroke-width="0.8"/>
<line x1="510.14" y1="321.00" x2="510.14" y2="323.00" stroke="#000" stroke-width="0.8"/>
<text x="487.10" y="331.60" font-size="6.8" text-anchor="middle" font-weight="bold" fill="#111" stroke="#111" stroke-width="0.2">100</text>
<line x1="511.25" y1="321.00" x2="511.25" y2="324.00" stroke="#000" stroke-width="1.1"/>
<text x="511.25" y="331.60" font-size="6.8" text-anchor="middle" font-weight="bold" fill="#111" stroke="#111" stroke-width="0.2">1,000</text>
<text x="432.00" y="219.50" font-size="8.0" text-anchor="start" fill="#222" stroke="#222" stroke-width="0.2">HCC4087</text>
<text x="367.80" y="274.00" font-size="7.8" text-anchor="middle" fill="#222" stroke="#222" stroke-width="0.2" transform="rotate(-90 367.80 274.00)">% Cell viability</text>
<text x="391.30" y="343.70" font-size="7.8" text-anchor="start" fill="#222" stroke="#222" stroke-width="0.2">6-Thio-dG concentration (µmol/L)</text>
<path d="M390.50,264.00 C392.92,264.08 400.92,264.28 405.00,264.50 C409.08,264.72 412.17,264.97 415.00,265.30 C417.83,265.63 419.75,265.97 422.00,266.50 C424.25,267.03 426.67,267.58 428.50,268.50 C430.33,269.42 431.67,270.50 433.00,272.00 C434.33,273.50 435.38,275.42 436.50,277.50 C437.62,279.58 438.65,282.12 439.70,284.50 C440.75,286.88 441.78,289.50 442.80,291.80 C443.82,294.10 444.85,296.47 445.80,298.30 C446.75,300.13 447.55,301.60 448.50,302.80 C449.45,304.00 450.42,304.92 451.50,305.50 C452.58,306.08 453.58,306.13 455.00,306.30 C456.42,306.47 454.67,306.47 460.00,306.50 C465.33,306.53 482.50,306.50 487.00,306.50" stroke="#8c8c8c" stroke-width="1.3" fill="none"/>
<circle cx="390.50" cy="258.00" r="1.9" stroke="#8a8a8a" stroke-width="0.6" fill="#8a8a8a"/>
<line x1="428.92" y1="267.76" x2="428.92" y2="270.92" stroke="#8a8a8a" stroke-width="1.1"/>
<line x1="427.32" y1="270.92" x2="430.52" y2="270.92" stroke="#8a8a8a" stroke-width="1.1"/>
<circle cx="428.92" cy="267.76" r="1.9" stroke="#8a8a8a" stroke-width="0.6" fill="#8a8a8a"/>
<line x1="436.19" y1="283.51" x2="436.19" y2="287.93" stroke="#8a8a8a" stroke-width="1.1"/>
<line x1="434.59" y1="287.93" x2="437.79" y2="287.93" stroke="#8a8a8a" stroke-width="1.1"/>
<circle cx="436.19" cy="283.51" r="1.9" stroke="#8a8a8a" stroke-width="0.6" fill="#8a8a8a"/>
<line x1="443.46" y1="292.27" x2="443.46" y2="295.42" stroke="#8a8a8a" stroke-width="1.1"/>
<line x1="441.86" y1="295.42" x2="445.06" y2="295.42" stroke="#8a8a8a" stroke-width="1.1"/>
<circle cx="443.46" cy="292.27" r="1.9" stroke="#8a8a8a" stroke-width="0.6" fill="#8a8a8a"/>
<line x1="450.75" y1="297.69" x2="450.75" y2="301.47" stroke="#8a8a8a" stroke-width="1.1"/>
<line x1="449.15" y1="301.47" x2="452.35" y2="301.47" stroke="#8a8a8a" stroke-width="1.1"/>
<circle cx="450.75" cy="297.69" r="1.9" stroke="#8a8a8a" stroke-width="0.6" fill="#8a8a8a"/>
<line x1="458.02" y1="302.23" x2="458.02" y2="306.64" stroke="#8a8a8a" stroke-width="1.1"/>
<line x1="456.42" y1="306.64" x2="459.62" y2="306.64" stroke="#8a8a8a" stroke-width="1.1"/>
<circle cx="458.02" cy="302.23" r="1.9" stroke="#8a8a8a" stroke-width="0.6" fill="#8a8a8a"/>
<line x1="465.29" y1="306.51" x2="465.29" y2="311.55" stroke="#8a8a8a" stroke-width="1.1"/>
<line x1="463.69" y1="311.55" x2="466.89" y2="311.55" stroke="#8a8a8a" stroke-width="1.1"/>
<circle cx="465.29" cy="306.51" r="1.9" stroke="#8a8a8a" stroke-width="0.6" fill="#8a8a8a"/>
<line x1="472.56" y1="309.72" x2="472.56" y2="315.39" stroke="#8a8a8a" stroke-width="1.1"/>
<line x1="470.96" y1="315.39" x2="474.16" y2="315.39" stroke="#8a8a8a" stroke-width="1.1"/>
<circle cx="472.56" cy="309.72" r="1.9" stroke="#8a8a8a" stroke-width="0.6" fill="#8a8a8a"/>
<line x1="479.83" y1="310.29" x2="479.83" y2="318.48" stroke="#8a8a8a" stroke-width="1.1"/>
<line x1="478.23" y1="318.48" x2="481.43" y2="318.48" stroke="#8a8a8a" stroke-width="1.1"/>
<circle cx="479.83" cy="310.29" r="1.9" stroke="#8a8a8a" stroke-width="0.6" fill="#8a8a8a"/>
<line x1="487.10" y1="312.81" x2="487.10" y2="315.33" stroke="#8a8a8a" stroke-width="1.1"/>
<line x1="485.50" y1="315.33" x2="488.70" y2="315.33" stroke="#8a8a8a" stroke-width="1.1"/>
<circle cx="487.10" cy="312.81" r="1.9" stroke="#8a8a8a" stroke-width="0.6" fill="#8a8a8a"/>
<rect x="36.5" y="388.6" width="180.70" height="176.40" fill="none" stroke="#9a9a9a" stroke-width="1.1"/>
<line x1="34.00" y1="558.50" x2="36.50" y2="558.50" stroke="#9a9a9a" stroke-width="1"/>
<text x="30.00" y="558.50" font-size="7.5" text-anchor="middle" fill="#333" stroke="#333" stroke-width="0.2" transform="rotate(-90 30.00 558.50)">0.0</text>
<line x1="34.00" y1="525.82" x2="36.50" y2="525.82" stroke="#9a9a9a" stroke-width="1"/>
<text x="30.00" y="525.82" font-size="7.5" text-anchor="middle" fill="#333" stroke="#333" stroke-width="0.2" transform="rotate(-90 30.00 525.82)">0.2</text>
<line x1="34.00" y1="493.14" x2="36.50" y2="493.14" stroke="#9a9a9a" stroke-width="1"/>
<text x="30.00" y="493.14" font-size="7.5" text-anchor="middle" fill="#333" stroke="#333" stroke-width="0.2" transform="rotate(-90 30.00 493.14)">0.4</text>
<line x1="34.00" y1="460.46" x2="36.50" y2="460.46" stroke="#9a9a9a" stroke-width="1"/>
<text x="30.00" y="460.46" font-size="7.5" text-anchor="middle" fill="#333" stroke="#333" stroke-width="0.2" transform="rotate(-90 30.00 460.46)">0.6</text>
<line x1="34.00" y1="427.78" x2="36.50" y2="427.78" stroke="#9a9a9a" stroke-width="1"/>
<text x="30.00" y="427.78" font-size="7.5" text-anchor="middle" fill="#333" stroke="#333" stroke-width="0.2" transform="rotate(-90 30.00 427.78)">0.8</text>
<line x1="34.00" y1="395.10" x2="36.50" y2="395.10" stroke="#9a9a9a" stroke-width="1"/>
<text x="30.00" y="395.10" font-size="7.5" text-anchor="middle" fill="#333" stroke="#333" stroke-width="0.2" transform="rotate(-90 30.00 395.10)">1.0</text>
<line x1="36.50" y1="565.00" x2="36.50" y2="567.50" stroke="#9a9a9a" stroke-width="1"/>
<text x="36.50" y="575.00" font-size="7.5" text-anchor="middle" fill="#333" stroke="#333" stroke-width="0.2">0</text>
<line x1="66.60" y1="565.00" x2="66.60" y2="567.50" stroke="#9a9a9a" stroke-width="1"/>
<text x="66.60" y="575.00" font-size="7.5" text-anchor="middle" fill="#333" stroke="#333" stroke-width="0.2">2</text>
<line x1="96.70" y1="565.00" x2="96.70" y2="567.50" stroke="#9a9a9a" stroke-width="1"/>
<text x="96.70" y="575.00" font-size="7.5" text-anchor="middle" fill="#333" stroke="#333" stroke-width="0.2">4</text>
<line x1="126.80" y1="565.00" x2="126.80" y2="567.50" stroke="#9a9a9a" stroke-width="1"/>
<text x="126.80" y="575.00" font-size="7.5" text-anchor="middle" fill="#333" stroke="#333" stroke-width="0.2">6</text>
<line x1="156.90" y1="565.00" x2="156.90" y2="567.50" stroke="#9a9a9a" stroke-width="1"/>
<text x="156.90" y="575.00" font-size="7.5" text-anchor="middle" fill="#333" stroke="#333" stroke-width="0.2">8</text>
<line x1="187.00" y1="565.00" x2="187.00" y2="567.50" stroke="#9a9a9a" stroke-width="1"/>
<text x="187.00" y="575.00" font-size="7.5" text-anchor="middle" fill="#333" stroke="#333" stroke-width="0.2">10</text>
<line x1="217.10" y1="565.00" x2="217.10" y2="567.50" stroke="#9a9a9a" stroke-width="1"/>
<text x="217.10" y="575.00" font-size="7.5" text-anchor="middle" fill="#333" stroke="#333" stroke-width="0.2">12</text>
<text x="127.30" y="585.10" font-size="7.7" text-anchor="middle" fill="#222" stroke="#222" stroke-width="0.2">Survival time (year)</text>
<text x="17.70" y="477.00" font-size="7.9" text-anchor="middle" fill="#222" stroke="#222" stroke-width="0.2" transform="rotate(-90 17.70 477.00)">Survival probability</text>
<text x="126.00" y="385.50" font-size="7.5" text-anchor="middle" font-weight="bold" fill="#111" stroke="#111" stroke-width="0.2">TCGA-LUAD</text>
<text x="74.20" y="544.20" font-size="6.6" text-anchor="middle" font-weight="bold" fill="#111" stroke="#111" stroke-width="0.2"><tspan font-style="italic">P</tspan> = 1.07E-2</text>
<rect x="120.8" y="388.6" width="97" height="19.3" fill="#fff" stroke="#9a9a9a" stroke-width="0.9"/>
<line x1="125.00" y1="395.10" x2="135.50" y2="395.10" stroke="#111" stroke-width="1.2"/>
<line x1="125.00" y1="401.80" x2="135.50" y2="401.80" stroke="#aaa" stroke-width="1.2"/>
<text x="138.70" y="397.00" font-size="5.45" text-anchor="start" fill="#333" stroke="#333" stroke-width="0.14">Highest 20% SLC43A3 (<tspan font-style="italic">n</tspan> = 99)</text>
<text x="138.70" y="403.70" font-size="5.45" text-anchor="start" fill="#333" stroke="#333" stroke-width="0.14">Lowest 20% SLC43A3 (<tspan font-style="italic">n</tspan> = 102)</text>
<path d="M36.50,395.20 H37.80 V397.50 H39.00 V400.00 H40.50 V402.50 H41.70 V404.60 H43.00 V407.00 H44.00 V409.00 H45.50 V411.00 H46.50 V413.00 H47.20 V415.00 H47.80 V417.00 H48.40 V419.00 H49.00 V421.00 H49.80 V423.00 H50.50 V425.00 H51.20 V427.00 H52.00 V429.50 H53.00 V431.50 H54.00 V433.50 H55.00 V435.50 H56.00 V437.50 H57.00 V439.20 H58.00 V441.00 H59.00 V442.70 H60.00 V444.30 H61.00 V446.00 H62.00 V447.30 H63.00 V448.70 H64.00 V450.00 H65.20 V451.30 H66.40 V452.50 H67.70 V453.70 H69.00 V455.50 H70.00 V457.00 H72.00 V458.50 H74.60 V459.80 H75.50 V462.00 H76.30 V464.50 H77.20 V466.70 H78.50 V469.50 H80.00 V472.00 H81.50 V474.50 H83.00 V476.50 H84.60 V478.80 H85.50 V482.00 H86.70 V486.70 H96.25 V486.70 H96.25 V489.50 H98.00 V492.00 H100.00 V495.00 H101.80 V497.50 H103.75 V500.00 H120.00 V500.00 H120.00 V505.50 H132.00 V505.50 H132.00 V511.75 H175.75 V511.75 H175.75 V523.75 H217.20 V523.75" stroke="#a0a0a0" stroke-width="1.1" fill="none"/>
<path d="M36.50,395.20 H37.80 V397.50 H39.00 V400.00 H40.50 V402.50 H41.70 V404.60 H43.00 V407.00 H44.00 V409.00 H45.50 V411.00 H47.00 V412.20 H48.00 V413.00 H50.00 V415.00 H52.00 V416.00 H54.00 V417.30 H57.00 V418.00 H58.50 V420.00 H59.50 V421.50 H62.00 V424.50 H64.00 V425.50 H66.00 V427.50 H68.00 V428.00 H72.00 V428.00 H72.50 V430.00 H74.00 V431.00 H76.00 V431.50 H77.30 V435.00 H77.50 V438.80 H98.50 V438.80 H98.50 V455.80 H109.50 V455.80 H109.50 V466.30 H144.50 V466.30 H144.50 V496.70 H172.00 V496.70" stroke="#1a1a1a" stroke-width="1.3" fill="none"/>
<line x1="88.00" y1="437.50" x2="88.00" y2="440.10" stroke="#1a1a1a" stroke-width="0.8"/>
<line x1="91.00" y1="437.50" x2="91.00" y2="440.10" stroke="#1a1a1a" stroke-width="0.8"/>
<line x1="104.00" y1="454.50" x2="104.00" y2="457.10" stroke="#1a1a1a" stroke-width="0.8"/>
<line x1="117.00" y1="465.00" x2="117.00" y2="467.60" stroke="#1a1a1a" stroke-width="0.8"/>
<line x1="120.00" y1="465.00" x2="120.00" y2="467.60" stroke="#1a1a1a" stroke-width="0.8"/>
<line x1="123.00" y1="465.00" x2="123.00" y2="467.60" stroke="#1a1a1a" stroke-width="0.8"/>
<line x1="126.00" y1="465.00" x2="126.00" y2="467.60" stroke="#1a1a1a" stroke-width="0.8"/>
<line x1="129.00" y1="465.00" x2="129.00" y2="467.60" stroke="#1a1a1a" stroke-width="0.8"/>
<line x1="139.00" y1="465.00" x2="139.00" y2="467.60" stroke="#1a1a1a" stroke-width="0.8"/>
<line x1="156.00" y1="495.40" x2="156.00" y2="498.00" stroke="#1a1a1a" stroke-width="0.8"/>
<line x1="164.00" y1="495.40" x2="164.00" y2="498.00" stroke="#1a1a1a" stroke-width="0.8"/>
<line x1="110.00" y1="498.70" x2="110.00" y2="501.30" stroke="#a0a0a0" stroke-width="0.8"/>
<line x1="115.00" y1="498.70" x2="115.00" y2="501.30" stroke="#a0a0a0" stroke-width="0.8"/>
<line x1="138.00" y1="510.45" x2="138.00" y2="513.05" stroke="#a0a0a0" stroke-width="0.8"/>
<line x1="146.00" y1="510.45" x2="146.00" y2="513.05" stroke="#a0a0a0" stroke-width="0.8"/>
<line x1="153.00" y1="510.45" x2="153.00" y2="513.05" stroke="#a0a0a0" stroke-width="0.8"/>
<line x1="160.00" y1="510.45" x2="160.00" y2="513.05" stroke="#a0a0a0" stroke-width="0.8"/>
<line x1="166.00" y1="510.45" x2="166.00" y2="513.05" stroke="#a0a0a0" stroke-width="0.8"/>
<line x1="262.20" y1="405.40" x2="262.20" y2="549.40" stroke="#8a8a8a" stroke-width="0.9"/>
<line x1="259.70" y1="549.40" x2="262.20" y2="549.40" stroke="#8a8a8a" stroke-width="0.9"/>
<text x="258.20" y="551.60" font-size="6.3" text-anchor="end" fill="#333" stroke="#333" stroke-width="0.2">4</text>
<line x1="259.70" y1="525.40" x2="262.20" y2="525.40" stroke="#8a8a8a" stroke-width="0.9"/>
<text x="258.20" y="527.60" font-size="6.3" text-anchor="end" fill="#333" stroke="#333" stroke-width="0.2">6</text>
<line x1="259.70" y1="501.40" x2="262.20" y2="501.40" stroke="#8a8a8a" stroke-width="0.9"/>
<text x="258.20" y="503.60" font-size="6.3" text-anchor="end" fill="#333" stroke="#333" stroke-width="0.2">8</text>
<line x1="259.70" y1="477.40" x2="262.20" y2="477.40" stroke="#8a8a8a" stroke-width="0.9"/>
<text x="258.20" y="479.60" font-size="6.3" text-anchor="end" fill="#333" stroke="#333" stroke-width="0.2">10</text>
<line x1="259.70" y1="453.40" x2="262.20" y2="453.40" stroke="#8a8a8a" stroke-width="0.9"/>
<text x="258.20" y="455.60" font-size="6.3" text-anchor="end" fill="#333" stroke="#333" stroke-width="0.2">12</text>
<line x1="259.70" y1="429.40" x2="262.20" y2="429.40" stroke="#8a8a8a" stroke-width="0.9"/>
<text x="258.20" y="431.60" font-size="6.3" text-anchor="end" fill="#333" stroke="#333" stroke-width="0.2">14</text>
<line x1="259.70" y1="405.40" x2="262.20" y2="405.40" stroke="#8a8a8a" stroke-width="0.9"/>
<text x="258.20" y="407.60" font-size="6.3" text-anchor="end" fill="#333" stroke="#333" stroke-width="0.2">16</text>
<text x="243.50" y="473.60" font-size="8.0" text-anchor="middle" fill="#333" stroke="#333" stroke-width="0.2" transform="rotate(-90 243.50 473.60)">RSEM (log<tspan font-size="5.4" dy="1.9">2</tspan><tspan dy="-1.9">)</tspan></text>
<text x="382.50" y="385.40" font-size="7.6" text-anchor="middle" font-weight="bold" fill="#111" stroke="#111" stroke-width="0.2">SLC43A3</text>
<line x1="274.30" y1="461.40" x2="274.30" y2="495.00" stroke="#a8a8a8" stroke-width="0.75" stroke-dasharray="1,0.8"/>
<line x1="274.30" y1="518.30" x2="274.30" y2="542.40" stroke="#a8a8a8" stroke-width="0.75" stroke-dasharray="1,0.8"/>
<line x1="272.80" y1="461.40" x2="275.80" y2="461.40" stroke="#999" stroke-width="0.9"/>
<line x1="272.80" y1="542.40" x2="275.80" y2="542.40" stroke="#999" stroke-width="0.9"/>
<rect x="271.30" y="495.00" width="6.00" height="23.30" fill="#fff" stroke="#b0b0b0" stroke-width="0.9"/>
<line x1="271.30" y1="509.40" x2="277.30" y2="509.40" stroke="#333" stroke-width="1.4"/>
<line x1="274.30" y1="557.20" x2="274.30" y2="559.40" stroke="#888" stroke-width="0.7"/>
<text x="276.20" y="562.80" font-size="5.2" text-anchor="end" fill="#222" stroke="#222" stroke-width="0.14" transform="rotate(-90 276.20 562.80)">LGG</text>
<line x1="280.90" y1="481.50" x2="280.90" y2="498.80" stroke="#a8a8a8" stroke-width="0.75" stroke-dasharray="1,0.8"/>
<line x1="280.90" y1="511.40" x2="280.90" y2="528.80" stroke="#a8a8a8" stroke-width="0.75" stroke-dasharray="1,0.8"/>
<line x1="279.40" y1="481.50" x2="282.40" y2="481.50" stroke="#999" stroke-width="0.9"/>
<line x1="279.40" y1="528.80" x2="282.40" y2="528.80" stroke="#999" stroke-width="0.9"/>
<rect x="277.90" y="498.80" width="6.00" height="12.60" fill="#fff" stroke="#b0b0b0" stroke-width="0.9"/>
<line x1="277.90" y1="504.90" x2="283.90" y2="504.90" stroke="#333" stroke-width="1.4"/>
<circle cx="280.90" cy="531.10" r="1.3" stroke="#999" stroke-width="0.6" fill="#aaa"/>
<circle cx="280.90" cy="538.20" r="1.3" stroke="#999" stroke-width="0.6" fill="#aaa"/>
<circle cx="280.90" cy="541.80" r="1.3" stroke="#999" stroke-width="0.6" fill="#aaa"/>
<circle cx="280.90" cy="475.50" r="1.2" stroke="#999" stroke-width="0.7" fill="#d0d0d0"/>
<circle cx="280.90" cy="477.75" r="1.2" stroke="#999" stroke-width="0.7" fill="#d0d0d0"/>
<circle cx="280.90" cy="480.00" r="1.2" stroke="#999" stroke-width="0.7" fill="#d0d0d0"/>
<line x1="280.90" y1="557.20" x2="280.90" y2="559.40" stroke="#888" stroke-width="0.7"/>
<text x="282.80" y="562.80" font-size="5.2" text-anchor="end" fill="#222" stroke="#222" stroke-width="0.14" transform="rotate(-90 282.80 562.80)">PRAD</text>
<line x1="287.50" y1="478.30" x2="287.50" y2="494.50" stroke="#a8a8a8" stroke-width="0.75" stroke-dasharray="1,0.8"/>
<line x1="287.50" y1="511.40" x2="287.50" y2="534.60" stroke="#a8a8a8" stroke-width="0.75" stroke-dasharray="1,0.8"/>
<line x1="286.00" y1="478.30" x2="289.00" y2="478.30" stroke="#999" stroke-width="0.9"/>
<line x1="286.00" y1="534.60" x2="289.00" y2="534.60" stroke="#999" stroke-width="0.9"/>
<rect x="284.50" y="494.50" width="6.00" height="16.90" fill="#fff" stroke="#b0b0b0" stroke-width="0.9"/>
<line x1="284.50" y1="504.30" x2="290.50" y2="504.30" stroke="#333" stroke-width="1.4"/>
<circle cx="287.50" cy="449.80" r="1.3" stroke="#999" stroke-width="0.6" fill="#aaa"/>
<line x1="287.50" y1="557.20" x2="287.50" y2="559.40" stroke="#888" stroke-width="0.7"/>
<text x="289.40" y="562.80" font-size="5.2" text-anchor="end" fill="#222" stroke="#222" stroke-width="0.14" transform="rotate(-90 289.40 562.80)">KICH</text>
<line x1="294.10" y1="474.50" x2="294.10" y2="494.20" stroke="#a8a8a8" stroke-width="0.75" stroke-dasharray="1,0.8"/>
<line x1="294.10" y1="508.10" x2="294.10" y2="527.50" stroke="#a8a8a8" stroke-width="0.75" stroke-dasharray="1,0.8"/>
<line x1="292.60" y1="474.50" x2="295.60" y2="474.50" stroke="#999" stroke-width="0.9"/>
<line x1="292.60" y1="527.50" x2="295.60" y2="527.50" stroke="#999" stroke-width="0.9"/>
<rect x="291.10" y="494.20" width="6.00" height="13.90" fill="#fff" stroke="#b0b0b0" stroke-width="0.9"/>
<line x1="291.10" y1="500.80" x2="297.10" y2="500.80" stroke="#333" stroke-width="1.4"/>
<circle cx="294.10" cy="469.80" r="1.3" stroke="#999" stroke-width="0.6" fill="#aaa"/>
<circle cx="294.10" cy="472.40" r="1.3" stroke="#999" stroke-width="0.6" fill="#aaa"/>
<circle cx="294.10" cy="548.10" r="1.3" stroke="#999" stroke-width="0.6" fill="#aaa"/>
<line x1="294.10" y1="557.20" x2="294.10" y2="559.40" stroke="#888" stroke-width="0.7"/>
<text x="296.00" y="562.80" font-size="5.2" text-anchor="end" fill="#222" stroke="#222" stroke-width="0.14" transform="rotate(-90 296.00 562.80)">PCPG</text>
<line x1="300.70" y1="465.20" x2="300.70" y2="490.40" stroke="#a8a8a8" stroke-width="0.75" stroke-dasharray="1,0.8"/>
<line x1="300.70" y1="508.50" x2="300.70" y2="535.80" stroke="#a8a8a8" stroke-width="0.75" stroke-dasharray="1,0.8"/>
<line x1="299.20" y1="465.20" x2="302.20" y2="465.20" stroke="#999" stroke-width="0.9"/>
<line x1="299.20" y1="535.80" x2="302.20" y2="535.80" stroke="#999" stroke-width="0.9"/>
<rect x="297.70" y="490.40" width="6.00" height="18.10" fill="#fff" stroke="#b0b0b0" stroke-width="0.9"/>
<line x1="297.70" y1="500.10" x2="303.70" y2="500.10" stroke="#333" stroke-width="1.4"/>
<circle cx="300.70" cy="458.80" r="1.3" stroke="#999" stroke-width="0.6" fill="#aaa"/>
<line x1="300.70" y1="557.20" x2="300.70" y2="559.40" stroke="#888" stroke-width="0.7"/>
<text x="302.60" y="562.80" font-size="5.2" text-anchor="end" fill="#222" stroke="#222" stroke-width="0.14" transform="rotate(-90 302.60 562.80)">KIRP</text>
<line x1="307.30" y1="463.80" x2="307.30" y2="488.00" stroke="#a8a8a8" stroke-width="0.75" stroke-dasharray="1,0.8"/>
<line x1="307.30" y1="507.30" x2="307.30" y2="535.80" stroke="#a8a8a8" stroke-width="0.75" stroke-dasharray="1,0.8"/>
<line x1="305.80" y1="463.80" x2="308.80" y2="463.80" stroke="#999" stroke-width="0.9"/>
<line x1="305.80" y1="535.80" x2="308.80" y2="535.80" stroke="#999" stroke-width="0.9"/>
<rect x="304.30" y="488.00" width="6.00" height="19.30" fill="#fff" stroke="#b0b0b0" stroke-width="0.9"/>
<line x1="304.30" y1="499.30" x2="310.30" y2="499.30" stroke="#333" stroke-width="1.4"/>
<circle cx="307.30" cy="457.60" r="1.3" stroke="#999" stroke-width="0.6" fill="#aaa"/>
<line x1="307.30" y1="557.20" x2="307.30" y2="559.40" stroke="#888" stroke-width="0.7"/>
<text x="309.20" y="562.80" font-size="5.2" text-anchor="end" fill="#222" stroke="#222" stroke-width="0.14" transform="rotate(-90 309.20 562.80)">ACC</text>
<line x1="313.90" y1="453.80" x2="313.90" y2="483.50" stroke="#a8a8a8" stroke-width="0.75" stroke-dasharray="1,0.8"/>
<line x1="313.90" y1="505.80" x2="313.90" y2="538.40" stroke="#a8a8a8" stroke-width="0.75" stroke-dasharray="1,0.8"/>
<line x1="312.40" y1="453.80" x2="315.40" y2="453.80" stroke="#999" stroke-width="0.9"/>
<line x1="312.40" y1="538.40" x2="315.40" y2="538.40" stroke="#999" stroke-width="0.9"/>
<rect x="310.90" y="483.50" width="6.00" height="22.30" fill="#fff" stroke="#b0b0b0" stroke-width="0.9"/>
<line x1="310.90" y1="495.30" x2="316.90" y2="495.30" stroke="#333" stroke-width="1.4"/>
<circle cx="313.90" cy="447.60" r="1.3" stroke="#999" stroke-width="0.6" fill="#aaa"/>
<circle cx="313.90" cy="540.50" r="1.3" stroke="#999" stroke-width="0.6" fill="#aaa"/>
<circle cx="313.90" cy="550.40" r="1.3" stroke="#999" stroke-width="0.6" fill="#aaa"/>
<line x1="313.90" y1="557.20" x2="313.90" y2="559.40" stroke="#888" stroke-width="0.7"/>
<text x="315.80" y="562.80" font-size="5.2" text-anchor="end" fill="#222" stroke="#222" stroke-width="0.14" transform="rotate(-90 315.80 562.80)">COAD</text>
<line x1="320.50" y1="455.60" x2="320.50" y2="483.60" stroke="#a8a8a8" stroke-width="0.75" stroke-dasharray="1,0.8"/>
<line x1="320.50" y1="504.50" x2="320.50" y2="530.60" stroke="#a8a8a8" stroke-width="0.75" stroke-dasharray="1,0.8"/>
<line x1="319.00" y1="455.60" x2="322.00" y2="455.60" stroke="#999" stroke-width="0.9"/>
<line x1="319.00" y1="530.60" x2="322.00" y2="530.60" stroke="#999" stroke-width="0.9"/>
<rect x="317.50" y="483.60" width="6.00" height="20.90" fill="#fff" stroke="#b0b0b0" stroke-width="0.9"/>
<line x1="317.50" y1="494.40" x2="323.50" y2="494.40" stroke="#333" stroke-width="1.4"/>
<circle cx="320.50" cy="537.80" r="1.3" stroke="#999" stroke-width="0.6" fill="#aaa"/>
<line x1="320.50" y1="557.20" x2="320.50" y2="559.40" stroke="#888" stroke-width="0.7"/>
<text x="322.40" y="562.80" font-size="5.2" text-anchor="end" fill="#222" stroke="#222" stroke-width="0.14" transform="rotate(-90 322.40 562.80)">READ</text>
<line x1="327.10" y1="450.50" x2="327.10" y2="482.40" stroke="#a8a8a8" stroke-width="0.75" stroke-dasharray="1,0.8"/>
<line x1="327.10" y1="505.80" x2="327.10" y2="539.40" stroke="#a8a8a8" stroke-width="0.75" stroke-dasharray="1,0.8"/>
<line x1="325.60" y1="450.50" x2="328.60" y2="450.50" stroke="#999" stroke-width="0.9"/>
<line x1="325.60" y1="539.40" x2="328.60" y2="539.40" stroke="#999" stroke-width="0.9"/>
<rect x="324.10" y="482.40" width="6.00" height="23.40" fill="#fff" stroke="#b0b0b0" stroke-width="0.9"/>
<line x1="324.10" y1="494.10" x2="330.10" y2="494.10" stroke="#333" stroke-width="1.4"/>
<circle cx="327.10" cy="447.30" r="1.3" stroke="#999" stroke-width="0.6" fill="#aaa"/>
<line x1="327.10" y1="557.20" x2="327.10" y2="559.40" stroke="#888" stroke-width="0.7"/>
<text x="329.00" y="562.80" font-size="5.2" text-anchor="end" fill="#222" stroke="#222" stroke-width="0.14" transform="rotate(-90 329.00 562.80)">BLCA</text>
<line x1="333.70" y1="447.60" x2="333.70" y2="475.20" stroke="#a8a8a8" stroke-width="0.75" stroke-dasharray="1,0.8"/>
<line x1="333.70" y1="496.00" x2="333.70" y2="525.10" stroke="#a8a8a8" stroke-width="0.75" stroke-dasharray="1,0.8"/>
<line x1="332.20" y1="447.60" x2="335.20" y2="447.60" stroke="#999" stroke-width="0.9"/>
<line x1="332.20" y1="525.10" x2="335.20" y2="525.10" stroke="#999" stroke-width="0.9"/>
<rect x="330.70" y="475.20" width="6.00" height="20.80" fill="#fff" stroke="#b0b0b0" stroke-width="0.9"/>
<line x1="330.70" y1="487.40" x2="336.70" y2="487.40" stroke="#333" stroke-width="1.4"/>
<line x1="333.70" y1="557.20" x2="333.70" y2="559.40" stroke="#888" stroke-width="0.7"/>
<text x="335.60" y="562.80" font-size="5.2" text-anchor="end" fill="#222" stroke="#222" stroke-width="0.14" transform="rotate(-90 335.60 562.80)">UCEC</text>
<line x1="340.30" y1="467.90" x2="340.30" y2="481.80" stroke="#a8a8a8" stroke-width="0.75" stroke-dasharray="1,0.8"/>
<line x1="340.30" y1="492.20" x2="340.30" y2="505.10" stroke="#a8a8a8" stroke-width="0.75" stroke-dasharray="1,0.8"/>
<line x1="338.80" y1="467.90" x2="341.80" y2="467.90" stroke="#999" stroke-width="0.9"/>
<line x1="338.80" y1="505.10" x2="341.80" y2="505.10" stroke="#999" stroke-width="0.9"/>
<rect x="337.30" y="481.80" width="6.00" height="10.40" fill="#fff" stroke="#b0b0b0" stroke-width="0.9"/>
<line x1="337.30" y1="486.30" x2="343.30" y2="486.30" stroke="#333" stroke-width="1.4"/>
<circle cx="340.30" cy="463.90" r="1.3" stroke="#999" stroke-width="0.6" fill="#aaa"/>
<line x1="340.30" y1="557.20" x2="340.30" y2="559.40" stroke="#888" stroke-width="0.7"/>
<text x="342.20" y="562.80" font-size="5.2" text-anchor="end" fill="#222" stroke="#222" stroke-width="0.14" transform="rotate(-90 342.20 562.80)">TGCT</text>
<line x1="346.90" y1="459.20" x2="346.90" y2="475.80" stroke="#a8a8a8" stroke-width="0.75" stroke-dasharray="1,0.8"/>
<line x1="346.90" y1="489.50" x2="346.90" y2="505.10" stroke="#a8a8a8" stroke-width="0.75" stroke-dasharray="1,0.8"/>
<line x1="345.40" y1="459.20" x2="348.40" y2="459.20" stroke="#999" stroke-width="0.9"/>
<line x1="345.40" y1="505.10" x2="348.40" y2="505.10" stroke="#999" stroke-width="0.9"/>
<rect x="343.90" y="475.80" width="6.00" height="13.70" fill="#fff" stroke="#b0b0b0" stroke-width="0.9"/>
<line x1="343.90" y1="481.90" x2="349.90" y2="481.90" stroke="#333" stroke-width="1.4"/>
<circle cx="346.90" cy="512.90" r="1.3" stroke="#999" stroke-width="0.6" fill="#aaa"/>
<circle cx="346.90" cy="519.40" r="1.3" stroke="#999" stroke-width="0.6" fill="#aaa"/>
<line x1="346.90" y1="557.20" x2="346.90" y2="559.40" stroke="#888" stroke-width="0.7"/>
<text x="348.80" y="562.80" font-size="5.2" text-anchor="end" fill="#222" stroke="#222" stroke-width="0.14" transform="rotate(-90 348.80 562.80)">UCS</text>
<line x1="353.50" y1="445.40" x2="353.50" y2="472.50" stroke="#a8a8a8" stroke-width="0.75" stroke-dasharray="1,0.8"/>
<line x1="353.50" y1="492.40" x2="353.50" y2="520.50" stroke="#a8a8a8" stroke-width="0.75" stroke-dasharray="1,0.8"/>
<line x1="352.00" y1="445.40" x2="355.00" y2="445.40" stroke="#999" stroke-width="0.9"/>
<line x1="352.00" y1="520.50" x2="355.00" y2="520.50" stroke="#999" stroke-width="0.9"/>
<rect x="350.50" y="472.50" width="6.00" height="19.90" fill="#fff" stroke="#b0b0b0" stroke-width="0.9"/>
<line x1="350.50" y1="480.70" x2="356.50" y2="480.70" stroke="#333" stroke-width="1.4"/>
<line x1="353.50" y1="557.20" x2="353.50" y2="559.40" stroke="#888" stroke-width="0.7"/>
<text x="355.40" y="562.80" font-size="5.2" text-anchor="end" fill="#222" stroke="#222" stroke-width="0.14" transform="rotate(-90 355.40 562.80)">ESCA</text>
<line x1="360.10" y1="445.10" x2="360.10" y2="470.20" stroke="#a8a8a8" stroke-width="0.75" stroke-dasharray="1,0.8"/>
<line x1="360.10" y1="492.00" x2="360.10" y2="521.80" stroke="#a8a8a8" stroke-width="0.75" stroke-dasharray="1,0.8"/>
<line x1="358.60" y1="445.10" x2="361.60" y2="445.10" stroke="#999" stroke-width="0.9"/>
<line x1="358.60" y1="521.80" x2="361.60" y2="521.80" stroke="#999" stroke-width="0.9"/>
<rect x="357.10" y="470.20" width="6.00" height="21.80" fill="#fff" stroke="#b0b0b0" stroke-width="0.9"/>
<line x1="357.10" y1="480.70" x2="363.10" y2="480.70" stroke="#333" stroke-width="1.4"/>
<circle cx="360.10" cy="523.20" r="1.3" stroke="#999" stroke-width="0.6" fill="#aaa"/>
<circle cx="360.10" cy="530.00" r="1.3" stroke="#999" stroke-width="0.6" fill="#aaa"/>
<circle cx="360.10" cy="533.40" r="1.3" stroke="#999" stroke-width="0.6" fill="#aaa"/>
<line x1="360.10" y1="557.20" x2="360.10" y2="559.40" stroke="#888" stroke-width="0.7"/>
<text x="362.00" y="562.80" font-size="5.2" text-anchor="end" fill="#222" stroke="#222" stroke-width="0.14" transform="rotate(-90 362.00 562.80)">LUSC</text>
<line x1="366.70" y1="450.00" x2="366.70" y2="470.60" stroke="#a8a8a8" stroke-width="0.75" stroke-dasharray="1,0.8"/>
<line x1="366.70" y1="484.50" x2="366.70" y2="504.90" stroke="#a8a8a8" stroke-width="0.75" stroke-dasharray="1,0.8"/>
<line x1="365.20" y1="450.00" x2="368.20" y2="450.00" stroke="#999" stroke-width="0.9"/>
<line x1="365.20" y1="504.90" x2="368.20" y2="504.90" stroke="#999" stroke-width="0.9"/>
<rect x="363.70" y="470.60" width="6.00" height="13.90" fill="#fff" stroke="#b0b0b0" stroke-width="0.9"/>
<line x1="363.70" y1="478.30" x2="369.70" y2="478.30" stroke="#333" stroke-width="1.4"/>
<circle cx="366.70" cy="398.20" r="1.3" stroke="#999" stroke-width="0.6" fill="#aaa"/>
<circle cx="366.70" cy="424.80" r="1.3" stroke="#999" stroke-width="0.6" fill="#aaa"/>
<circle cx="366.70" cy="441.00" r="1.2" stroke="#505050" stroke-width="0.7" fill="#8a8a8a"/>
<circle cx="366.70" cy="442.80" r="1.2" stroke="#505050" stroke-width="0.7" fill="#8a8a8a"/>
<circle cx="366.70" cy="444.60" r="1.2" stroke="#505050" stroke-width="0.7" fill="#8a8a8a"/>
<circle cx="366.70" cy="446.40" r="1.2" stroke="#505050" stroke-width="0.7" fill="#8a8a8a"/>
<circle cx="366.70" cy="448.20" r="1.2" stroke="#505050" stroke-width="0.7" fill="#8a8a8a"/>
<circle cx="366.70" cy="450.00" r="1.2" stroke="#505050" stroke-width="0.7" fill="#8a8a8a"/>
<circle cx="366.70" cy="506.00" r="1.2" stroke="#777" stroke-width="0.7" fill="#999"/>
<circle cx="366.70" cy="507.50" r="1.2" stroke="#777" stroke-width="0.7" fill="#999"/>
<circle cx="366.70" cy="509.00" r="1.2" stroke="#777" stroke-width="0.7" fill="#999"/>
<circle cx="366.70" cy="515.00" r="1.3" stroke="#999" stroke-width="0.6" fill="#aaa"/>
<line x1="366.70" y1="557.20" x2="366.70" y2="559.40" stroke="#888" stroke-width="0.7"/>
<text x="368.60" y="562.80" font-size="5.2" text-anchor="end" fill="#222" stroke="#222" stroke-width="0.14" transform="rotate(-90 368.60 562.80)">BRCA</text>
<line x1="373.30" y1="451.20" x2="373.30" y2="470.20" stroke="#a8a8a8" stroke-width="0.75" stroke-dasharray="1,0.8"/>
<line x1="373.30" y1="484.50" x2="373.30" y2="504.90" stroke="#a8a8a8" stroke-width="0.75" stroke-dasharray="1,0.8"/>
<line x1="371.80" y1="451.20" x2="374.80" y2="451.20" stroke="#999" stroke-width="0.9"/>
<line x1="371.80" y1="504.90" x2="374.80" y2="504.90" stroke="#999" stroke-width="0.9"/>
<rect x="370.30" y="470.20" width="6.00" height="14.30" fill="#fff" stroke="#b0b0b0" stroke-width="0.9"/>
<line x1="370.30" y1="477.00" x2="376.30" y2="477.00" stroke="#333" stroke-width="1.4"/>
<circle cx="373.30" cy="428.50" r="1.3" stroke="#999" stroke-width="0.6" fill="#aaa"/>
<circle cx="373.30" cy="443.00" r="1.2" stroke="#777" stroke-width="0.7" fill="#999"/>
<circle cx="373.30" cy="444.25" r="1.2" stroke="#777" stroke-width="0.7" fill="#999"/>
<circle cx="373.30" cy="445.50" r="1.2" stroke="#777" stroke-width="0.7" fill="#999"/>
<circle cx="373.30" cy="506.00" r="1.2" stroke="#505050" stroke-width="0.7" fill="#8a8a8a"/>
<circle cx="373.30" cy="507.83" r="1.2" stroke="#505050" stroke-width="0.7" fill="#8a8a8a"/>
<circle cx="373.30" cy="509.67" r="1.2" stroke="#505050" stroke-width="0.7" fill="#8a8a8a"/>
<circle cx="373.30" cy="511.50" r="1.2" stroke="#505050" stroke-width="0.7" fill="#8a8a8a"/>
<circle cx="373.30" cy="513.33" r="1.2" stroke="#505050" stroke-width="0.7" fill="#8a8a8a"/>
<circle cx="373.30" cy="515.17" r="1.2" stroke="#505050" stroke-width="0.7" fill="#8a8a8a"/>
<circle cx="373.30" cy="517.00" r="1.2" stroke="#505050" stroke-width="0.7" fill="#8a8a8a"/>
<circle cx="373.30" cy="518.83" r="1.2" stroke="#505050" stroke-width="0.7" fill="#8a8a8a"/>
<circle cx="373.30" cy="520.67" r="1.2" stroke="#505050" stroke-width="0.7" fill="#8a8a8a"/>
<circle cx="373.30" cy="522.50" r="1.2" stroke="#505050" stroke-width="0.7" fill="#8a8a8a"/>
<line x1="373.30" y1="557.20" x2="373.30" y2="559.40" stroke="#888" stroke-width="0.7"/>
<text x="375.20" y="562.80" font-size="5.2" text-anchor="end" fill="#222" stroke="#222" stroke-width="0.14" transform="rotate(-90 375.20 562.80)">KIRC</text>
<line x1="379.90" y1="460.10" x2="379.90" y2="473.30" stroke="#a8a8a8" stroke-width="0.75" stroke-dasharray="1,0.8"/>
<line x1="379.90" y1="483.10" x2="379.90" y2="499.40" stroke="#a8a8a8" stroke-width="0.75" stroke-dasharray="1,0.8"/>
<line x1="378.40" y1="460.10" x2="381.40" y2="460.10" stroke="#999" stroke-width="0.9"/>
<line x1="378.40" y1="499.40" x2="381.40" y2="499.40" stroke="#999" stroke-width="0.9"/>
<rect x="376.90" y="473.30" width="6.00" height="9.80" fill="#fff" stroke="#b0b0b0" stroke-width="0.9"/>
<line x1="376.90" y1="476.70" x2="382.90" y2="476.70" stroke="#333" stroke-width="1.4"/>
<circle cx="379.90" cy="454.40" r="1.3" stroke="#999" stroke-width="0.6" fill="#aaa"/>
<circle cx="379.90" cy="500.50" r="1.2" stroke="#777" stroke-width="0.7" fill="#999"/>
<circle cx="379.90" cy="502.12" r="1.2" stroke="#777" stroke-width="0.7" fill="#999"/>
<circle cx="379.90" cy="503.75" r="1.2" stroke="#777" stroke-width="0.7" fill="#999"/>
<circle cx="379.90" cy="505.38" r="1.2" stroke="#777" stroke-width="0.7" fill="#999"/>
<circle cx="379.90" cy="507.00" r="1.2" stroke="#777" stroke-width="0.7" fill="#999"/>
<circle cx="379.90" cy="522.50" r="1.3" stroke="#999" stroke-width="0.6" fill="#aaa"/>
<circle cx="379.90" cy="530.00" r="1.3" stroke="#999" stroke-width="0.6" fill="#aaa"/>
<line x1="379.90" y1="557.20" x2="379.90" y2="559.40" stroke="#888" stroke-width="0.7"/>
<text x="381.80" y="562.80" font-size="5.2" text-anchor="end" fill="#222" stroke="#222" stroke-width="0.14" transform="rotate(-90 381.80 562.80)">PAAD</text>
<line x1="386.50" y1="445.10" x2="386.50" y2="468.40" stroke="#a8a8a8" stroke-width="0.75" stroke-dasharray="1,0.8"/>
<line x1="386.50" y1="484.70" x2="386.50" y2="509.00" stroke="#a8a8a8" stroke-width="0.75" stroke-dasharray="1,0.8"/>
<line x1="385.00" y1="445.10" x2="388.00" y2="445.10" stroke="#999" stroke-width="0.9"/>
<line x1="385.00" y1="509.00" x2="388.00" y2="509.00" stroke="#999" stroke-width="0.9"/>
<rect x="383.50" y="468.40" width="6.00" height="16.30" fill="#fff" stroke="#b0b0b0" stroke-width="0.9"/>
<line x1="383.50" y1="476.30" x2="389.50" y2="476.30" stroke="#333" stroke-width="1.4"/>
<circle cx="386.50" cy="432.30" r="1.3" stroke="#999" stroke-width="0.6" fill="#aaa"/>
<circle cx="386.50" cy="510.50" r="1.2" stroke="#999" stroke-width="0.7" fill="#d0d0d0"/>
<circle cx="386.50" cy="512.25" r="1.2" stroke="#999" stroke-width="0.7" fill="#d0d0d0"/>
<circle cx="386.50" cy="514.00" r="1.2" stroke="#999" stroke-width="0.7" fill="#d0d0d0"/>
<circle cx="386.50" cy="534.50" r="1.3" stroke="#999" stroke-width="0.6" fill="#aaa"/>
<line x1="386.50" y1="557.20" x2="386.50" y2="559.40" stroke="#888" stroke-width="0.7"/>
<text x="388.40" y="562.80" font-size="5.2" text-anchor="end" fill="#222" stroke="#222" stroke-width="0.14" transform="rotate(-90 388.40 562.80)">STAD</text>
<line x1="393.10" y1="463.00" x2="393.10" y2="471.40" stroke="#a8a8a8" stroke-width="0.75" stroke-dasharray="1,0.8"/>
<line x1="393.10" y1="481.00" x2="393.10" y2="488.40" stroke="#a8a8a8" stroke-width="0.75" stroke-dasharray="1,0.8"/>
<line x1="391.60" y1="463.00" x2="394.60" y2="463.00" stroke="#999" stroke-width="0.9"/>
<line x1="391.60" y1="488.40" x2="394.60" y2="488.40" stroke="#999" stroke-width="0.9"/>
<rect x="390.10" y="471.40" width="6.00" height="9.60" fill="#fff" stroke="#b0b0b0" stroke-width="0.9"/>
<line x1="390.10" y1="476.30" x2="396.10" y2="476.30" stroke="#333" stroke-width="1.4"/>
<circle cx="393.10" cy="461.80" r="1.3" stroke="#999" stroke-width="0.6" fill="#aaa"/>
<circle cx="393.10" cy="502.00" r="1.2" stroke="#505050" stroke-width="0.7" fill="#8a8a8a"/>
<circle cx="393.10" cy="503.75" r="1.2" stroke="#505050" stroke-width="0.7" fill="#8a8a8a"/>
<circle cx="393.10" cy="505.50" r="1.2" stroke="#505050" stroke-width="0.7" fill="#8a8a8a"/>
<circle cx="393.10" cy="507.25" r="1.2" stroke="#505050" stroke-width="0.7" fill="#8a8a8a"/>
<circle cx="393.10" cy="509.00" r="1.2" stroke="#505050" stroke-width="0.7" fill="#8a8a8a"/>
<circle cx="393.10" cy="510.75" r="1.2" stroke="#505050" stroke-width="0.7" fill="#8a8a8a"/>
<circle cx="393.10" cy="512.50" r="1.2" stroke="#505050" stroke-width="0.7" fill="#8a8a8a"/>
<circle cx="393.10" cy="514.25" r="1.2" stroke="#505050" stroke-width="0.7" fill="#8a8a8a"/>
<circle cx="393.10" cy="516.00" r="1.2" stroke="#505050" stroke-width="0.7" fill="#8a8a8a"/>
<circle cx="393.10" cy="522.80" r="1.3" stroke="#999" stroke-width="0.6" fill="#aaa"/>
<line x1="393.10" y1="557.20" x2="393.10" y2="559.40" stroke="#888" stroke-width="0.7"/>
<text x="395.00" y="562.80" font-size="5.2" text-anchor="end" fill="#222" stroke="#222" stroke-width="0.14" transform="rotate(-90 395.00 562.80)">GBM</text>
<line x1="399.70" y1="449.40" x2="399.70" y2="468.20" stroke="#a8a8a8" stroke-width="0.75" stroke-dasharray="1,0.8"/>
<line x1="399.70" y1="484.00" x2="399.70" y2="504.40" stroke="#a8a8a8" stroke-width="0.75" stroke-dasharray="1,0.8"/>
<line x1="398.20" y1="449.40" x2="401.20" y2="449.40" stroke="#999" stroke-width="0.9"/>
<line x1="398.20" y1="504.40" x2="401.20" y2="504.40" stroke="#999" stroke-width="0.9"/>
<rect x="396.70" y="468.20" width="6.00" height="15.80" fill="#fff" stroke="#b0b0b0" stroke-width="0.9"/>
<line x1="396.70" y1="475.20" x2="402.70" y2="475.20" stroke="#333" stroke-width="1.4"/>
<circle cx="399.70" cy="506.50" r="1.2" stroke="#505050" stroke-width="0.7" fill="#8a8a8a"/>
<circle cx="399.70" cy="508.18" r="1.2" stroke="#505050" stroke-width="0.7" fill="#8a8a8a"/>
<circle cx="399.70" cy="509.87" r="1.2" stroke="#505050" stroke-width="0.7" fill="#8a8a8a"/>
<circle cx="399.70" cy="511.55" r="1.2" stroke="#505050" stroke-width="0.7" fill="#8a8a8a"/>
<circle cx="399.70" cy="513.23" r="1.2" stroke="#505050" stroke-width="0.7" fill="#8a8a8a"/>
<circle cx="399.70" cy="514.92" r="1.2" stroke="#505050" stroke-width="0.7" fill="#8a8a8a"/>
<circle cx="399.70" cy="516.60" r="1.2" stroke="#505050" stroke-width="0.7" fill="#8a8a8a"/>
<circle cx="399.70" cy="533.60" r="1.3" stroke="#999" stroke-width="0.6" fill="#aaa"/>
<line x1="399.70" y1="557.20" x2="399.70" y2="559.40" stroke="#888" stroke-width="0.7"/>
<text x="401.60" y="562.80" font-size="5.2" text-anchor="end" fill="#222" stroke="#222" stroke-width="0.14" transform="rotate(-90 401.60 562.80)">HNSC</text>
<line x1="406.30" y1="458.40" x2="406.30" y2="467.30" stroke="#a8a8a8" stroke-width="0.75" stroke-dasharray="1,0.8"/>
<line x1="406.30" y1="480.00" x2="406.30" y2="499.00" stroke="#a8a8a8" stroke-width="0.75" stroke-dasharray="1,0.8"/>
<line x1="404.80" y1="458.40" x2="407.80" y2="458.40" stroke="#999" stroke-width="0.9"/>
<line x1="404.80" y1="499.00" x2="407.80" y2="499.00" stroke="#999" stroke-width="0.9"/>
<rect x="403.30" y="467.30" width="6.00" height="12.70" fill="#fff" stroke="#b0b0b0" stroke-width="0.9"/>
<line x1="403.30" y1="473.80" x2="409.30" y2="473.80" stroke="#333" stroke-width="1.4"/>
<circle cx="406.30" cy="501.00" r="1.3" stroke="#999" stroke-width="0.6" fill="#aaa"/>
<circle cx="406.30" cy="505.80" r="1.3" stroke="#999" stroke-width="0.6" fill="#aaa"/>
<line x1="406.30" y1="557.20" x2="406.30" y2="559.40" stroke="#888" stroke-width="0.7"/>
<text x="408.20" y="562.80" font-size="5.2" text-anchor="end" fill="#222" stroke="#222" stroke-width="0.14" transform="rotate(-90 408.20 562.80)">THYM</text>
<line x1="412.90" y1="445.60" x2="412.90" y2="466.00" stroke="#a8a8a8" stroke-width="0.75" stroke-dasharray="1,0.8"/>
<line x1="412.90" y1="480.00" x2="412.90" y2="498.30" stroke="#a8a8a8" stroke-width="0.75" stroke-dasharray="1,0.8"/>
<line x1="411.40" y1="445.60" x2="414.40" y2="445.60" stroke="#999" stroke-width="0.9"/>
<line x1="411.40" y1="498.30" x2="414.40" y2="498.30" stroke="#999" stroke-width="0.9"/>
<rect x="409.90" y="466.00" width="6.00" height="14.00" fill="#fff" stroke="#b0b0b0" stroke-width="0.9"/>
<line x1="409.90" y1="471.60" x2="415.90" y2="471.60" stroke="#333" stroke-width="1.4"/>
<circle cx="412.90" cy="501.00" r="1.2" stroke="#505050" stroke-width="0.7" fill="#8a8a8a"/>
<circle cx="412.90" cy="502.62" r="1.2" stroke="#505050" stroke-width="0.7" fill="#8a8a8a"/>
<circle cx="412.90" cy="504.25" r="1.2" stroke="#505050" stroke-width="0.7" fill="#8a8a8a"/>
<circle cx="412.90" cy="505.88" r="1.2" stroke="#505050" stroke-width="0.7" fill="#8a8a8a"/>
<circle cx="412.90" cy="507.50" r="1.2" stroke="#505050" stroke-width="0.7" fill="#8a8a8a"/>
<circle cx="412.90" cy="516.00" r="1.3" stroke="#999" stroke-width="0.6" fill="#aaa"/>
<circle cx="412.90" cy="519.00" r="1.3" stroke="#999" stroke-width="0.6" fill="#aaa"/>
<circle cx="412.90" cy="528.20" r="1.3" stroke="#999" stroke-width="0.6" fill="#aaa"/>
<line x1="412.90" y1="557.20" x2="412.90" y2="559.40" stroke="#888" stroke-width="0.7"/>
<text x="414.80" y="562.80" font-size="5.2" text-anchor="end" fill="#222" stroke="#222" stroke-width="0.14" transform="rotate(-90 414.80 562.80)">CESC</text>
<line x1="419.50" y1="441.40" x2="419.50" y2="463.50" stroke="#a8a8a8" stroke-width="0.75" stroke-dasharray="1,0.8"/>
<line x1="419.50" y1="479.30" x2="419.50" y2="499.30" stroke="#a8a8a8" stroke-width="0.75" stroke-dasharray="1,0.8"/>
<line x1="418.00" y1="441.40" x2="421.00" y2="441.40" stroke="#999" stroke-width="0.9"/>
<line x1="418.00" y1="499.30" x2="421.00" y2="499.30" stroke="#999" stroke-width="0.9"/>
<rect x="416.50" y="463.50" width="6.00" height="15.80" fill="#fff" stroke="#b0b0b0" stroke-width="0.9"/>
<line x1="416.50" y1="471.40" x2="422.50" y2="471.40" stroke="#333" stroke-width="1.4"/>
<circle cx="419.50" cy="429.90" r="1.2" stroke="#999" stroke-width="0.7" fill="#d0d0d0"/>
<circle cx="419.50" cy="431.50" r="1.2" stroke="#999" stroke-width="0.7" fill="#d0d0d0"/>
<circle cx="419.50" cy="433.10" r="1.2" stroke="#999" stroke-width="0.7" fill="#d0d0d0"/>
<circle cx="419.50" cy="504.40" r="1.3" stroke="#999" stroke-width="0.6" fill="#aaa"/>
<circle cx="419.50" cy="507.80" r="1.3" stroke="#999" stroke-width="0.6" fill="#aaa"/>
<circle cx="419.50" cy="512.60" r="1.3" stroke="#999" stroke-width="0.6" fill="#aaa"/>
<line x1="419.50" y1="557.20" x2="419.50" y2="559.40" stroke="#888" stroke-width="0.7"/>
<text x="421.40" y="562.80" font-size="5.2" text-anchor="end" fill="#222" stroke="#222" stroke-width="0.14" transform="rotate(-90 421.40 562.80)">OV</text>
<line x1="426.10" y1="440.10" x2="426.10" y2="460.60" stroke="#a8a8a8" stroke-width="0.75" stroke-dasharray="1,0.8"/>
<line x1="426.10" y1="485.40" x2="426.10" y2="517.30" stroke="#a8a8a8" stroke-width="0.75" stroke-dasharray="1,0.8"/>
<line x1="424.60" y1="440.10" x2="427.60" y2="440.10" stroke="#999" stroke-width="0.9"/>
<line x1="424.60" y1="517.30" x2="427.60" y2="517.30" stroke="#999" stroke-width="0.9"/>
<rect x="423.10" y="460.60" width="6.00" height="24.80" fill="#fff" stroke="#b0b0b0" stroke-width="0.9"/>
<line x1="423.10" y1="471.20" x2="429.10" y2="471.20" stroke="#333" stroke-width="1.4"/>
<circle cx="426.10" cy="438.00" r="1.3" stroke="#999" stroke-width="0.6" fill="#aaa"/>
<circle cx="426.10" cy="523.40" r="1.3" stroke="#999" stroke-width="0.6" fill="#aaa"/>
<line x1="426.10" y1="557.20" x2="426.10" y2="559.40" stroke="#888" stroke-width="0.7"/>
<text x="428.00" y="562.80" font-size="5.2" text-anchor="end" fill="#222" stroke="#222" stroke-width="0.14" transform="rotate(-90 428.00 562.80)">THCA</text>
<line x1="432.70" y1="450.40" x2="432.70" y2="465.80" stroke="#a8a8a8" stroke-width="0.75" stroke-dasharray="1,0.8"/>
<line x1="432.70" y1="476.10" x2="432.70" y2="490.10" stroke="#a8a8a8" stroke-width="0.75" stroke-dasharray="1,0.8"/>
<line x1="431.20" y1="450.40" x2="434.20" y2="450.40" stroke="#999" stroke-width="0.9"/>
<line x1="431.20" y1="490.10" x2="434.20" y2="490.10" stroke="#999" stroke-width="0.9"/>
<rect x="429.70" y="465.80" width="6.00" height="10.30" fill="#fff" stroke="#b0b0b0" stroke-width="0.9"/>
<line x1="429.70" y1="469.50" x2="435.70" y2="469.50" stroke="#333" stroke-width="1.4"/>
<line x1="432.70" y1="557.20" x2="432.70" y2="559.40" stroke="#888" stroke-width="0.7"/>
<text x="434.60" y="562.80" font-size="5.2" text-anchor="end" fill="#222" stroke="#222" stroke-width="0.14" transform="rotate(-90 434.60 562.80)">MESO</text>
<line x1="439.30" y1="450.40" x2="439.30" y2="461.00" stroke="#a8a8a8" stroke-width="0.75" stroke-dasharray="1,0.8"/>
<line x1="439.30" y1="474.00" x2="439.30" y2="494.40" stroke="#a8a8a8" stroke-width="0.75" stroke-dasharray="1,0.8"/>
<line x1="437.80" y1="450.40" x2="440.80" y2="450.40" stroke="#999" stroke-width="0.9"/>
<line x1="437.80" y1="494.40" x2="440.80" y2="494.40" stroke="#999" stroke-width="0.9"/>
<rect x="436.30" y="461.00" width="6.00" height="13.00" fill="#fff" stroke="#b0b0b0" stroke-width="0.9"/>
<line x1="436.30" y1="468.80" x2="442.30" y2="468.80" stroke="#333" stroke-width="1.4"/>
<circle cx="439.30" cy="498.50" r="1.2" stroke="#999" stroke-width="0.7" fill="#d0d0d0"/>
<circle cx="439.30" cy="500.20" r="1.2" stroke="#999" stroke-width="0.7" fill="#d0d0d0"/>
<circle cx="439.30" cy="501.90" r="1.2" stroke="#999" stroke-width="0.7" fill="#d0d0d0"/>
<circle cx="439.30" cy="533.80" r="1.3" stroke="#999" stroke-width="0.6" fill="#aaa"/>
<line x1="439.30" y1="557.20" x2="439.30" y2="559.40" stroke="#888" stroke-width="0.7"/>
<text x="441.20" y="562.80" font-size="5.2" text-anchor="end" fill="#222" stroke="#222" stroke-width="0.14" transform="rotate(-90 441.20 562.80)">UVM</text>
<line x1="445.90" y1="445.00" x2="445.90" y2="456.20" stroke="#a8a8a8" stroke-width="0.75" stroke-dasharray="1,0.8"/>
<line x1="445.90" y1="476.10" x2="445.90" y2="501.20" stroke="#a8a8a8" stroke-width="0.75" stroke-dasharray="1,0.8"/>
<line x1="444.40" y1="445.00" x2="447.40" y2="445.00" stroke="#999" stroke-width="0.9"/>
<line x1="444.40" y1="501.20" x2="447.40" y2="501.20" stroke="#999" stroke-width="0.9"/>
<rect x="442.90" y="456.20" width="6.00" height="19.90" fill="#fff" stroke="#b0b0b0" stroke-width="0.9"/>
<line x1="442.90" y1="466.40" x2="448.90" y2="466.40" stroke="#333" stroke-width="1.4"/>
<line x1="445.90" y1="557.20" x2="445.90" y2="559.40" stroke="#888" stroke-width="0.7"/>
<text x="447.80" y="562.80" font-size="5.2" text-anchor="end" fill="#222" stroke="#222" stroke-width="0.14" transform="rotate(-90 447.80 562.80)">CHOL</text>
<line x1="452.50" y1="442.50" x2="452.50" y2="458.70" stroke="#a8a8a8" stroke-width="0.75" stroke-dasharray="1,0.8"/>
<line x1="452.50" y1="471.00" x2="452.50" y2="489.00" stroke="#a8a8a8" stroke-width="0.75" stroke-dasharray="1,0.8"/>
<line x1="451.00" y1="442.50" x2="454.00" y2="442.50" stroke="#999" stroke-width="0.9"/>
<line x1="451.00" y1="489.00" x2="454.00" y2="489.00" stroke="#999" stroke-width="0.9"/>
<rect x="449.50" y="458.70" width="6.00" height="12.30" fill="#fff" stroke="#b0b0b0" stroke-width="0.9"/>
<line x1="449.50" y1="464.20" x2="455.50" y2="464.20" stroke="#333" stroke-width="1.4"/>
<circle cx="452.50" cy="432.60" r="1.3" stroke="#999" stroke-width="0.6" fill="#aaa"/>
<circle cx="452.50" cy="493.00" r="1.2" stroke="#999" stroke-width="0.7" fill="#d0d0d0"/>
<circle cx="452.50" cy="495.10" r="1.2" stroke="#999" stroke-width="0.7" fill="#d0d0d0"/>
<circle cx="452.50" cy="507.30" r="1.3" stroke="#999" stroke-width="0.6" fill="#aaa"/>
<circle cx="452.50" cy="520.20" r="1.3" stroke="#999" stroke-width="0.6" fill="#aaa"/>
<line x1="452.50" y1="557.20" x2="452.50" y2="559.40" stroke="#888" stroke-width="0.7"/>
<text x="454.40" y="562.80" font-size="5.2" text-anchor="end" fill="#222" stroke="#222" stroke-width="0.14" transform="rotate(-90 454.40 562.80)">SARC</text>
<line x1="459.10" y1="436.40" x2="459.10" y2="457.10" stroke="#a8a8a8" stroke-width="0.75" stroke-dasharray="1,0.8"/>
<line x1="459.10" y1="470.20" x2="459.10" y2="489.70" stroke="#a8a8a8" stroke-width="0.75" stroke-dasharray="1,0.8"/>
<line x1="457.60" y1="436.40" x2="460.60" y2="436.40" stroke="#999" stroke-width="0.9"/>
<line x1="457.60" y1="489.70" x2="460.60" y2="489.70" stroke="#999" stroke-width="0.9"/>
<rect x="456.10" y="457.10" width="6.00" height="13.10" fill="#5e5e5e" stroke="#b0b0b0" stroke-width="0.9"/>
<line x1="456.10" y1="463.30" x2="462.10" y2="463.30" stroke="#333" stroke-width="1.4"/>
<circle cx="459.10" cy="434.30" r="1.3" stroke="#999" stroke-width="0.6" fill="#aaa"/>
<circle cx="459.10" cy="491.00" r="1.2" stroke="#777" stroke-width="0.7" fill="#999"/>
<circle cx="459.10" cy="493.00" r="1.2" stroke="#777" stroke-width="0.7" fill="#999"/>
<circle cx="459.10" cy="496.00" r="1.2" stroke="#505050" stroke-width="0.7" fill="#8a8a8a"/>
<circle cx="459.10" cy="497.67" r="1.2" stroke="#505050" stroke-width="0.7" fill="#8a8a8a"/>
<circle cx="459.10" cy="499.33" r="1.2" stroke="#505050" stroke-width="0.7" fill="#8a8a8a"/>
<circle cx="459.10" cy="501.00" r="1.2" stroke="#505050" stroke-width="0.7" fill="#8a8a8a"/>
<circle cx="459.10" cy="502.67" r="1.2" stroke="#505050" stroke-width="0.7" fill="#8a8a8a"/>
<circle cx="459.10" cy="504.33" r="1.2" stroke="#505050" stroke-width="0.7" fill="#8a8a8a"/>
<circle cx="459.10" cy="506.00" r="1.2" stroke="#505050" stroke-width="0.7" fill="#8a8a8a"/>
<circle cx="459.10" cy="509.40" r="1.3" stroke="#999" stroke-width="0.6" fill="#aaa"/>
<circle cx="459.10" cy="516.80" r="1.3" stroke="#999" stroke-width="0.6" fill="#aaa"/>
<line x1="459.10" y1="557.20" x2="459.10" y2="559.40" stroke="#888" stroke-width="0.7"/>
<text x="461.00" y="562.80" font-size="5.2" text-anchor="end" fill="#222" stroke="#222" stroke-width="0.14" transform="rotate(-90 461.00 562.80)">LUAD</text>
<line x1="465.70" y1="447.00" x2="465.70" y2="457.50" stroke="#a8a8a8" stroke-width="0.75" stroke-dasharray="1,0.8"/>
<line x1="465.70" y1="467.20" x2="465.70" y2="479.50" stroke="#a8a8a8" stroke-width="0.75" stroke-dasharray="1,0.8"/>
<line x1="464.20" y1="447.00" x2="467.20" y2="447.00" stroke="#999" stroke-width="0.9"/>
<line x1="464.20" y1="479.50" x2="467.20" y2="479.50" stroke="#999" stroke-width="0.9"/>
<rect x="462.70" y="457.50" width="6.00" height="9.70" fill="#fff" stroke="#b0b0b0" stroke-width="0.9"/>
<line x1="462.70" y1="462.60" x2="468.70" y2="462.60" stroke="#333" stroke-width="1.4"/>
<circle cx="465.70" cy="440.90" r="1.2" stroke="#999" stroke-width="0.7" fill="#d0d0d0"/>
<circle cx="465.70" cy="442.80" r="1.2" stroke="#999" stroke-width="0.7" fill="#d0d0d0"/>
<circle cx="465.70" cy="481.50" r="1.3" stroke="#999" stroke-width="0.6" fill="#aaa"/>
<circle cx="465.70" cy="486.30" r="1.3" stroke="#999" stroke-width="0.6" fill="#aaa"/>
<line x1="465.70" y1="557.20" x2="465.70" y2="559.40" stroke="#888" stroke-width="0.7"/>
<text x="467.60" y="562.80" font-size="5.2" text-anchor="end" fill="#222" stroke="#222" stroke-width="0.14" transform="rotate(-90 467.60 562.80)">LAML</text>
<line x1="472.30" y1="445.20" x2="472.30" y2="454.50" stroke="#a8a8a8" stroke-width="0.75" stroke-dasharray="1,0.8"/>
<line x1="472.30" y1="467.70" x2="472.30" y2="480.60" stroke="#a8a8a8" stroke-width="0.75" stroke-dasharray="1,0.8"/>
<line x1="470.80" y1="445.20" x2="473.80" y2="445.20" stroke="#999" stroke-width="0.9"/>
<line x1="470.80" y1="480.60" x2="473.80" y2="480.60" stroke="#999" stroke-width="0.9"/>
<rect x="469.30" y="454.50" width="6.00" height="13.20" fill="#fff" stroke="#b0b0b0" stroke-width="0.9"/>
<line x1="469.30" y1="461.70" x2="475.30" y2="461.70" stroke="#333" stroke-width="1.4"/>
<line x1="472.30" y1="557.20" x2="472.30" y2="559.40" stroke="#888" stroke-width="0.7"/>
<text x="474.20" y="562.80" font-size="5.2" text-anchor="end" fill="#222" stroke="#222" stroke-width="0.14" transform="rotate(-90 474.20 562.80)">DLBC</text>
<line x1="478.90" y1="427.40" x2="478.90" y2="448.40" stroke="#a8a8a8" stroke-width="0.75" stroke-dasharray="1,0.8"/>
<line x1="478.90" y1="467.00" x2="478.90" y2="493.50" stroke="#a8a8a8" stroke-width="0.75" stroke-dasharray="1,0.8"/>
<line x1="477.40" y1="427.40" x2="480.40" y2="427.40" stroke="#999" stroke-width="0.9"/>
<line x1="477.40" y1="493.50" x2="480.40" y2="493.50" stroke="#999" stroke-width="0.9"/>
<rect x="475.90" y="448.40" width="6.00" height="18.60" fill="#fff" stroke="#b0b0b0" stroke-width="0.9"/>
<line x1="475.90" y1="456.30" x2="481.90" y2="456.30" stroke="#333" stroke-width="1.4"/>
<circle cx="478.90" cy="418.50" r="1.3" stroke="#999" stroke-width="0.6" fill="#aaa"/>
<circle cx="478.90" cy="496.30" r="1.3" stroke="#999" stroke-width="0.6" fill="#aaa"/>
<circle cx="478.90" cy="499.70" r="1.3" stroke="#999" stroke-width="0.6" fill="#aaa"/>
<circle cx="478.90" cy="505.80" r="1.3" stroke="#999" stroke-width="0.6" fill="#aaa"/>
<circle cx="478.90" cy="516.00" r="1.2" stroke="#777" stroke-width="0.7" fill="#999"/>
<circle cx="478.90" cy="518.00" r="1.2" stroke="#777" stroke-width="0.7" fill="#999"/>
<circle cx="478.90" cy="520.00" r="1.2" stroke="#777" stroke-width="0.7" fill="#999"/>
<line x1="478.90" y1="557.20" x2="478.90" y2="559.40" stroke="#888" stroke-width="0.7"/>
<text x="480.80" y="562.80" font-size="5.2" text-anchor="end" fill="#222" stroke="#222" stroke-width="0.14" transform="rotate(-90 480.80 562.80)">LIHC</text>
<line x1="485.50" y1="428.30" x2="485.50" y2="449.00" stroke="#a8a8a8" stroke-width="0.75" stroke-dasharray="1,0.8"/>
<line x1="485.50" y1="463.30" x2="485.50" y2="483.30" stroke="#a8a8a8" stroke-width="0.75" stroke-dasharray="1,0.8"/>
<line x1="484.00" y1="428.30" x2="487.00" y2="428.30" stroke="#999" stroke-width="0.9"/>
<line x1="484.00" y1="483.30" x2="487.00" y2="483.30" stroke="#999" stroke-width="0.9"/>
<rect x="482.50" y="449.00" width="6.00" height="14.30" fill="#fff" stroke="#b0b0b0" stroke-width="0.9"/>
<line x1="482.50" y1="455.60" x2="488.50" y2="455.60" stroke="#333" stroke-width="1.4"/>
<circle cx="485.50" cy="486.00" r="1.3" stroke="#999" stroke-width="0.6" fill="#aaa"/>
<circle cx="485.50" cy="492.50" r="1.2" stroke="#777" stroke-width="0.7" fill="#999"/>
<circle cx="485.50" cy="494.00" r="1.2" stroke="#777" stroke-width="0.7" fill="#999"/>
<circle cx="485.50" cy="497.00" r="1.3" stroke="#999" stroke-width="0.6" fill="#aaa"/>
<circle cx="485.50" cy="511.90" r="1.3" stroke="#999" stroke-width="0.6" fill="#aaa"/>
<circle cx="485.50" cy="517.30" r="1.3" stroke="#999" stroke-width="0.6" fill="#aaa"/>
<line x1="485.50" y1="557.20" x2="485.50" y2="559.40" stroke="#888" stroke-width="0.7"/>
<text x="487.40" y="562.80" font-size="5.2" text-anchor="end" fill="#222" stroke="#222" stroke-width="0.14" transform="rotate(-90 487.40 562.80)">SKCM</text>
<line x1="274.30" y1="557.20" x2="485.50" y2="557.20" stroke="#888" stroke-width="0.8"/>
</svg>
</body></html>
